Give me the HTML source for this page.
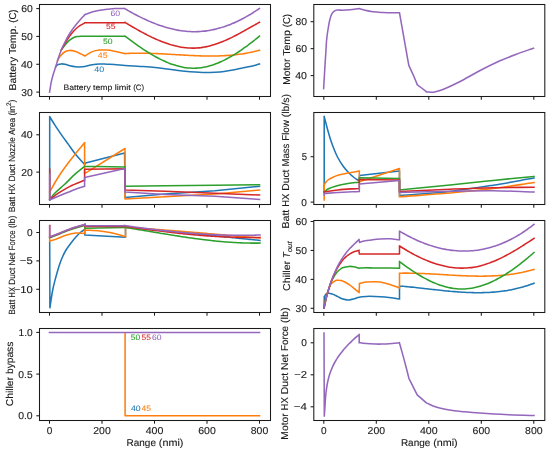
<!DOCTYPE html>
<html><head><meta charset="utf-8"><style>
html,body{margin:0;padding:0;background:#fff;width:550px;height:451px;overflow:hidden}
svg{display:block;filter:blur(0.3px)}
text{font-family:"Liberation Sans", sans-serif;}
.tx text, text.tx{stroke-width:0.22px}
.ax{stroke:#1a1a1a;stroke-width:1.05;fill:none}
</style></head><body>
<svg width="550" height="451" viewBox="0 0 550 451" text-rendering="geometricPrecision">
<rect width="550" height="451" fill="#fff"/>
<g><path d="M55.70,66.80 C56.37,65.73 57.08,65.08 58.00,64.60 C58.94,64.10 60.16,63.96 61.30,63.90 C62.49,63.84 63.69,64.03 65.00,64.30 C66.55,64.61 68.27,65.39 70.00,65.80 C71.80,66.23 73.96,66.63 75.60,66.80 C76.87,66.93 77.71,66.93 79.00,66.90 C80.72,66.85 82.91,66.72 85.00,66.40 C87.33,66.04 89.85,65.15 92.30,64.75 C94.72,64.35 97.16,64.09 99.60,64.00 C102.06,63.91 104.54,64.13 107.00,64.20 C109.44,64.27 111.64,64.23 114.30,64.40 C117.53,64.61 121.13,65.19 125.00,65.50 C129.58,65.87 135.00,66.07 140.00,66.40 C145.00,66.73 150.51,67.04 155.00,67.50 C158.68,67.87 161.67,68.38 165.00,68.80 C168.33,69.22 171.67,69.60 175.00,70.00 C178.33,70.40 181.66,70.87 185.00,71.20 C188.33,71.53 191.33,71.79 195.00,72.00 C199.49,72.25 205.51,72.54 210.00,72.50 C213.67,72.47 216.67,72.33 220.00,72.00 C223.34,71.67 226.67,71.08 230.00,70.50 C233.34,69.92 236.67,69.17 240.00,68.50 C243.33,67.83 246.72,67.26 250.00,66.50 C253.22,65.76 256.33,64.83 259.50,64.00" stroke="#1f77b4" stroke-width="1.55" fill="none" stroke-linejoin="round" stroke-linecap="square"/><path d="M57.60,60.50 C58.34,58.85 59.13,57.50 60.30,56.10 C61.65,54.48 63.68,52.44 65.40,51.50 C66.75,50.76 67.99,50.46 69.50,50.40 C71.32,50.32 73.76,50.93 75.60,51.50 C77.22,52.01 78.49,52.79 80.00,53.50 C81.62,54.26 83.33,55.10 85.00,55.90 M85.00,55.90 C87.43,54.47 89.78,52.57 92.30,51.60 C94.66,50.69 97.15,50.35 99.60,50.10 C102.05,49.85 104.55,49.92 107.00,50.10 C109.45,50.28 112.02,50.77 114.30,51.20 C116.32,51.58 118.16,52.09 120.00,52.50 C121.72,52.89 123.33,53.23 125.00,53.60 M125.00,53.60 C125.68,53.56 126.36,53.52 127.04,53.49 C127.72,53.45 128.40,53.42 129.08,53.39 C129.75,53.37 130.43,53.34 131.11,53.32 C131.79,53.30 132.47,53.28 133.15,53.26 C133.83,53.25 134.51,53.23 135.19,53.22 C135.87,53.21 136.55,53.20 137.23,53.20 C137.91,53.19 138.59,53.19 139.27,53.19 C139.94,53.19 140.62,53.19 141.30,53.19 C141.98,53.20 142.66,53.20 143.34,53.21 C144.02,53.22 144.70,53.23 145.38,53.24 C146.06,53.25 146.74,53.27 147.42,53.28 C148.10,53.30 148.78,53.32 149.45,53.33 C150.13,53.35 150.81,53.38 151.49,53.40 C152.17,53.42 152.85,53.44 153.53,53.47 C154.21,53.50 154.89,53.52 155.57,53.55 C156.25,53.58 156.93,53.61 157.61,53.64 C158.29,53.67 158.96,53.70 159.64,53.73 C160.32,53.77 161.00,53.80 161.68,53.84 C162.36,53.87 163.04,53.91 163.72,53.94 C164.40,53.98 165.08,54.02 165.76,54.05 C166.44,54.09 167.12,54.13 167.80,54.17 C168.47,54.21 169.15,54.25 169.83,54.29 C170.51,54.33 171.19,54.37 171.87,54.41 C172.55,54.45 173.23,54.49 173.91,54.53 C174.59,54.57 175.27,54.61 175.95,54.65 C176.63,54.69 177.31,54.73 177.98,54.77 C178.66,54.81 179.34,54.85 180.02,54.89 C180.70,54.93 181.38,54.97 182.06,55.01 C182.74,55.05 183.42,55.09 184.10,55.13 C184.78,55.16 185.46,55.20 186.14,55.24 C186.82,55.27 187.49,55.31 188.17,55.35 C188.85,55.38 189.53,55.42 190.21,55.45 C190.89,55.48 191.57,55.51 192.25,55.55 C192.93,55.58 193.61,55.61 194.29,55.64 C194.97,55.67 195.65,55.69 196.33,55.72 C197.01,55.75 197.68,55.77 198.36,55.79 C199.04,55.82 199.72,55.84 200.40,55.86 C201.08,55.88 201.76,55.90 202.44,55.91 C203.12,55.93 203.80,55.95 204.48,55.96 C205.16,55.97 205.84,55.98 206.52,55.99 C207.19,56.00 207.87,56.01 208.55,56.01 C209.23,56.02 209.91,56.02 210.59,56.02 C211.27,56.02 211.95,56.02 212.63,56.01 C213.31,56.01 213.99,56.00 214.67,55.99 C215.35,55.98 216.03,55.97 216.70,55.96 C217.38,55.94 218.06,55.93 218.74,55.90 C219.42,55.88 220.10,55.86 220.78,55.84 C221.46,55.81 222.14,55.78 222.82,55.75 C223.50,55.71 224.18,55.68 224.86,55.64 C225.54,55.60 226.21,55.56 226.89,55.51 C227.57,55.47 228.25,55.42 228.93,55.37 C229.61,55.32 230.29,55.26 230.97,55.20 C231.65,55.14 232.33,55.08 233.01,55.01 C233.69,54.95 234.37,54.87 235.05,54.80 C235.72,54.73 236.40,54.65 237.08,54.56 C237.76,54.48 238.44,54.40 239.12,54.30 C239.80,54.21 240.48,54.12 241.16,54.02 C241.84,53.92 242.52,53.82 243.20,53.71 C243.88,53.60 244.56,53.49 245.23,53.37 C245.91,53.25 246.59,53.13 247.27,53.01 C247.95,52.88 248.63,52.75 249.31,52.61 C249.99,52.48 250.67,52.34 251.35,52.19 C252.03,52.04 252.71,51.89 253.39,51.74 C254.07,51.58 254.75,51.42 255.42,51.25 C256.10,51.09 256.78,50.92 257.46,50.74 C258.14,50.56 258.82,50.37 259.50,50.19" stroke="#ff7f0e" stroke-width="1.55" fill="none" stroke-linejoin="round" stroke-linecap="square"/><path d="M61.30,50.00 C62.00,48.69 62.67,48.09 63.50,47.00 C64.52,45.66 65.65,43.97 67.00,42.60 C68.45,41.13 70.25,39.52 72.00,38.50 C73.59,37.58 75.31,36.98 77.00,36.60 C78.64,36.23 80.54,36.26 82.00,36.20 C83.13,36.16 84.00,36.20 85.00,36.20 M85.00,36.20 L125.00,36.20 M125.00,36.18 C125.68,36.69 126.36,37.21 127.04,37.72 C127.72,38.23 128.40,38.73 129.08,39.24 C129.75,39.74 130.43,40.24 131.11,40.74 C131.79,41.24 132.47,41.73 133.15,42.23 C133.83,42.72 134.51,43.20 135.19,43.69 C135.87,44.17 136.55,44.65 137.23,45.13 C137.91,45.60 138.58,46.07 139.27,46.54 C139.94,47.00 140.62,47.47 141.30,47.92 C141.98,48.38 142.66,48.83 143.34,49.28 C144.02,49.73 144.70,50.17 145.38,50.61 C146.06,51.04 146.74,51.47 147.42,51.90 C148.09,52.32 148.77,52.74 149.45,53.16 C150.13,53.57 150.81,53.98 151.49,54.38 C152.17,54.78 152.85,55.17 153.53,55.56 C154.21,55.95 154.89,56.33 155.57,56.70 C156.25,57.08 156.93,57.44 157.61,57.80 C158.28,58.16 158.96,58.51 159.64,58.86 C160.32,59.20 161.00,59.54 161.68,59.87 C162.36,60.20 163.04,60.52 163.72,60.83 C164.40,61.14 165.08,61.45 165.76,61.74 C166.44,62.04 167.11,62.32 167.80,62.60 C168.47,62.88 169.15,63.15 169.83,63.41 C170.51,63.67 171.19,63.92 171.87,64.16 C172.55,64.40 173.23,64.63 173.91,64.85 C174.59,65.07 175.27,65.28 175.95,65.48 C176.62,65.68 177.30,65.88 177.98,66.06 C178.66,66.24 179.34,66.41 180.02,66.57 C180.70,66.72 181.38,66.87 182.06,67.01 C182.74,67.15 183.42,67.27 184.10,67.39 C184.78,67.50 185.46,67.60 186.14,67.69 C186.81,67.78 187.49,67.86 188.17,67.93 C188.85,68.00 189.53,68.05 190.21,68.10 C190.89,68.14 191.57,68.17 192.25,68.19 C192.93,68.20 193.61,68.21 194.29,68.20 C194.97,68.19 195.65,68.17 196.33,68.13 C197.01,68.10 197.68,68.05 198.36,67.99 C199.04,67.93 199.72,67.86 200.40,67.77 C201.08,67.69 201.76,67.59 202.44,67.48 C203.12,67.37 203.80,67.25 204.48,67.11 C205.16,66.98 205.84,66.83 206.52,66.68 C207.20,66.52 207.88,66.35 208.55,66.17 C209.23,65.99 209.91,65.80 210.59,65.60 C211.27,65.40 211.95,65.18 212.63,64.96 C213.31,64.74 213.99,64.50 214.67,64.26 C215.35,64.01 216.03,63.76 216.70,63.49 C217.39,63.23 218.06,62.95 218.74,62.67 C219.42,62.38 220.10,62.09 220.78,61.78 C221.46,61.48 222.14,61.16 222.82,60.84 C223.50,60.52 224.18,60.19 224.86,59.85 C225.54,59.51 226.22,59.16 226.89,58.80 C227.58,58.44 228.25,58.07 228.93,57.70 C229.61,57.32 230.29,56.94 230.97,56.55 C231.65,56.15 232.33,55.75 233.01,55.35 C233.69,54.94 234.37,54.52 235.05,54.10 C235.73,53.68 236.41,53.25 237.08,52.81 C237.76,52.37 238.44,51.93 239.12,51.48 C239.80,51.03 240.48,50.57 241.16,50.11 C241.84,49.64 242.52,49.17 243.20,48.69 C243.88,48.21 244.56,47.73 245.23,47.24 C245.92,46.75 246.59,46.26 247.27,45.76 C247.95,45.25 248.63,44.75 249.31,44.23 C249.99,43.72 250.67,43.20 251.35,42.68 C252.03,42.16 252.71,41.63 253.39,41.10 C254.07,40.56 254.75,40.03 255.42,39.48 C256.10,38.94 256.78,38.40 257.46,37.85 C258.14,37.29 258.82,36.73 259.50,36.18" stroke="#2ca02c" stroke-width="1.55" fill="none" stroke-linejoin="round" stroke-linecap="square"/><path d="M61.30,50.00 C61.95,48.56 62.45,47.84 63.20,46.50 C64.24,44.66 65.59,42.17 67.00,40.00 C68.51,37.68 70.16,35.17 72.00,33.00 C73.83,30.84 75.81,28.71 78.00,27.00 C80.15,25.32 82.67,24.20 85.00,22.80 M85.00,22.80 L125.00,22.40 M125.00,22.40 C125.68,22.81 126.36,23.22 127.04,23.63 C127.72,24.04 128.40,24.44 129.08,24.85 C129.75,25.25 130.43,25.65 131.11,26.05 C131.79,26.45 132.47,26.85 133.15,27.24 C133.83,27.64 134.51,28.03 135.19,28.42 C135.87,28.81 136.55,29.20 137.23,29.58 C137.91,29.97 138.59,30.35 139.27,30.72 C139.94,31.10 140.62,31.47 141.30,31.84 C141.98,32.21 142.66,32.58 143.34,32.94 C144.02,33.30 144.70,33.66 145.38,34.02 C146.06,34.37 146.74,34.72 147.42,35.07 C148.10,35.41 148.77,35.75 149.45,36.09 C150.13,36.42 150.81,36.75 151.49,37.08 C152.17,37.41 152.85,37.73 153.53,38.04 C154.21,38.36 154.89,38.67 155.57,38.97 C156.25,39.27 156.93,39.57 157.61,39.87 C158.28,40.16 158.96,40.44 159.64,40.72 C160.32,41.00 161.00,41.28 161.68,41.55 C162.36,41.81 163.04,42.07 163.72,42.33 C164.40,42.58 165.08,42.83 165.76,43.07 C166.44,43.31 167.12,43.54 167.80,43.76 C168.47,43.99 169.15,44.21 169.83,44.42 C170.51,44.62 171.19,44.83 171.87,45.02 C172.55,45.21 173.23,45.40 173.91,45.58 C174.59,45.76 175.27,45.93 175.95,46.09 C176.63,46.25 177.30,46.40 177.98,46.54 C178.66,46.68 179.34,46.82 180.02,46.94 C180.70,47.07 181.38,47.19 182.06,47.29 C182.74,47.40 183.42,47.49 184.10,47.58 C184.78,47.67 185.46,47.75 186.14,47.81 C186.82,47.88 187.49,47.94 188.17,47.99 C188.85,48.03 189.53,48.07 190.21,48.09 C190.89,48.12 191.57,48.14 192.25,48.14 C192.93,48.14 193.61,48.14 194.29,48.12 C194.97,48.10 195.65,48.07 196.33,48.03 C197.01,47.99 197.68,47.94 198.36,47.88 C199.04,47.82 199.72,47.74 200.40,47.66 C201.08,47.58 201.76,47.48 202.44,47.38 C203.12,47.28 203.80,47.16 204.48,47.04 C205.16,46.91 205.84,46.78 206.52,46.63 C207.20,46.49 207.87,46.34 208.55,46.17 C209.23,46.01 209.91,45.84 210.59,45.66 C211.27,45.48 211.95,45.29 212.63,45.09 C213.31,44.89 213.99,44.68 214.67,44.47 C215.35,44.25 216.03,44.03 216.70,43.79 C217.39,43.56 218.06,43.32 218.74,43.07 C219.42,42.82 220.10,42.57 220.78,42.31 C221.46,42.04 222.14,41.77 222.82,41.49 C223.50,41.21 224.18,40.93 224.86,40.64 C225.54,40.34 226.22,40.04 226.89,39.74 C227.57,39.43 228.25,39.12 228.93,38.80 C229.61,38.48 230.29,38.16 230.97,37.83 C231.65,37.50 232.33,37.16 233.01,36.82 C233.69,36.48 234.37,36.13 235.05,35.78 C235.73,35.43 236.40,35.07 237.08,34.71 C237.76,34.35 238.44,33.99 239.12,33.62 C239.80,33.25 240.48,32.88 241.16,32.51 C241.84,32.14 242.52,31.76 243.20,31.38 C243.88,31.00 244.56,30.62 245.23,30.24 C245.91,29.86 246.59,29.48 247.27,29.10 C247.95,28.72 248.63,28.33 249.31,27.95 C249.99,27.57 250.67,27.18 251.35,26.80 C252.03,26.42 252.71,26.04 253.39,25.66 C254.07,25.28 254.74,24.90 255.42,24.52 C256.10,24.14 256.78,23.77 257.46,23.39 C258.14,23.02 258.82,22.65 259.50,22.28" stroke="#d62728" stroke-width="1.55" fill="none" stroke-linejoin="round" stroke-linecap="square"/><path d="M49.60,92.00 C49.87,90.33 50.14,88.60 50.40,87.00 C50.64,85.51 50.75,84.35 51.10,82.70 C51.58,80.39 52.42,77.18 53.20,74.50 C53.96,71.88 54.87,69.44 55.70,66.80 C56.57,64.02 57.36,61.02 58.30,58.20 C59.23,55.42 60.19,52.69 61.30,50.00 C62.42,47.29 63.62,44.72 65.00,42.00 C66.49,39.06 68.25,35.77 70.00,33.00 C71.60,30.47 73.29,28.21 75.00,26.00 C76.63,23.89 78.31,21.93 80.00,20.00 C81.64,18.13 83.33,16.40 85.00,14.60 M85.00,14.60 C86.67,14.00 88.33,13.35 90.00,12.80 C91.66,12.25 93.32,11.72 95.00,11.30 C96.66,10.89 98.33,10.58 100.00,10.30 C101.66,10.02 103.33,9.82 105.00,9.60 C106.67,9.38 108.33,9.17 110.00,9.00 C111.67,8.83 113.07,8.69 115.00,8.60 C117.66,8.48 121.33,8.53 124.50,8.50 M124.50,8.49 C125.18,8.88 125.86,9.28 126.55,9.68 C127.23,10.07 127.91,10.46 128.59,10.85 C129.27,11.23 129.95,11.61 130.64,11.99 C131.32,12.37 132.00,12.74 132.68,13.11 C133.36,13.48 134.04,13.85 134.73,14.21 C135.41,14.57 136.09,14.93 136.77,15.28 C137.45,15.63 138.14,15.98 138.82,16.32 C139.50,16.67 140.18,17.01 140.86,17.34 C141.54,17.67 142.23,18.00 142.91,18.33 C143.59,18.65 144.27,18.98 144.95,19.29 C145.64,19.61 146.32,19.92 147.00,20.22 C147.68,20.53 148.36,20.83 149.05,21.12 C149.73,21.42 150.41,21.71 151.09,21.99 C151.77,22.28 152.45,22.56 153.14,22.83 C153.82,23.11 154.50,23.38 155.18,23.64 C155.86,23.90 156.54,24.16 157.23,24.41 C157.91,24.66 158.59,24.91 159.27,25.15 C159.95,25.39 160.64,25.62 161.32,25.85 C162.00,26.08 162.68,26.30 163.36,26.52 C164.04,26.74 164.73,26.95 165.41,27.15 C166.09,27.36 166.77,27.55 167.45,27.74 C168.14,27.94 168.82,28.12 169.50,28.30 C170.18,28.48 170.86,28.65 171.55,28.82 C172.23,28.98 172.91,29.14 173.59,29.29 C174.27,29.44 174.95,29.59 175.64,29.73 C176.32,29.87 177.00,30.00 177.68,30.12 C178.36,30.25 179.04,30.36 179.73,30.47 C180.41,30.58 181.09,30.69 181.77,30.78 C182.45,30.88 183.14,30.97 183.82,31.05 C184.50,31.13 185.18,31.20 185.86,31.27 C186.55,31.33 187.23,31.39 187.91,31.44 C188.59,31.49 189.27,31.53 189.95,31.57 C190.64,31.60 191.32,31.63 192.00,31.65 C192.68,31.67 193.36,31.68 194.05,31.68 C194.73,31.69 195.41,31.68 196.09,31.67 C196.77,31.66 197.45,31.63 198.14,31.61 C198.82,31.58 199.50,31.54 200.18,31.49 C200.86,31.45 201.55,31.39 202.23,31.33 C202.91,31.27 203.59,31.20 204.27,31.12 C204.95,31.05 205.64,30.96 206.32,30.87 C207.00,30.77 207.68,30.67 208.36,30.56 C209.05,30.45 209.73,30.34 210.41,30.21 C211.09,30.09 211.77,29.95 212.45,29.81 C213.14,29.67 213.82,29.52 214.50,29.37 C215.18,29.21 215.86,29.05 216.55,28.88 C217.23,28.71 217.91,28.53 218.59,28.34 C219.27,28.16 219.96,27.96 220.64,27.76 C221.32,27.56 222.00,27.35 222.68,27.13 C223.36,26.92 224.05,26.69 224.73,26.46 C225.41,26.23 226.09,25.99 226.77,25.75 C227.46,25.50 228.14,25.25 228.82,24.99 C229.50,24.73 230.18,24.46 230.86,24.18 C231.55,23.91 232.23,23.62 232.91,23.33 C233.59,23.04 234.27,22.75 234.95,22.44 C235.64,22.14 236.32,21.83 237.00,21.51 C237.68,21.19 238.37,20.86 239.05,20.53 C239.73,20.20 240.41,19.86 241.09,19.51 C241.77,19.16 242.46,18.81 243.14,18.45 C243.82,18.09 244.50,17.72 245.18,17.35 C245.87,16.97 246.55,16.59 247.23,16.20 C247.91,15.81 248.59,15.42 249.27,15.02 C249.96,14.61 250.64,14.20 251.32,13.79 C252.00,13.37 252.68,12.95 253.36,12.52 C254.05,12.09 254.73,11.65 255.41,11.21 C256.09,10.77 256.77,10.32 257.45,9.87 C258.14,9.41 258.82,8.94 259.50,8.48" stroke="#9467bd" stroke-width="1.55" fill="none" stroke-linejoin="round" stroke-linecap="square"/><path d="M323.60,88.60 C323.73,86.40 323.86,84.31 324.00,82.00 C324.16,79.46 324.32,76.94 324.50,74.00 C324.72,70.40 324.95,66.00 325.20,62.00 C325.45,58.00 325.76,53.82 326.00,50.00 C326.22,46.52 326.27,43.37 326.60,40.00 C326.93,36.54 327.46,32.88 328.00,29.50 C328.50,26.33 329.00,23.03 329.70,20.30 C330.28,18.04 330.80,15.83 331.70,14.20 C332.42,12.91 333.29,11.78 334.30,11.10 C335.19,10.49 336.15,10.27 337.30,10.10 C338.76,9.88 340.53,10.23 342.40,10.20 C344.68,10.16 347.36,10.04 350.00,9.80 C352.88,9.53 356.00,9.00 359.00,8.60 M359.00,8.60 C360.67,9.07 362.08,9.54 364.00,10.00 C366.55,10.61 369.91,11.38 373.00,11.80 C376.23,12.23 379.67,12.33 383.00,12.50 C386.33,12.67 390.02,12.76 393.00,12.80 C395.40,12.84 397.33,12.80 399.50,12.80 M399.50,12.80 L408.80,65.40 L413.20,74.80 L417.40,84.90 L421.60,88.00 L426.30,91.70 M426.30,91.70 C428.70,91.87 431.18,92.40 433.50,92.20 C435.74,92.01 437.32,91.53 440.00,90.60 C444.75,88.96 452.80,85.15 459.10,82.00 C465.53,78.79 471.80,74.85 478.20,71.50 C484.53,68.19 490.88,64.89 497.30,62.00 C503.61,59.16 510.19,56.66 516.40,54.30 C522.23,52.08 527.80,50.23 533.50,48.20" stroke="#9467bd" stroke-width="1.55" fill="none" stroke-linejoin="round" stroke-linecap="square"/><path d="M49.70,200.00 L49.70,116.70 M49.70,116.70 C51.33,119.33 52.81,121.83 54.60,124.60 C56.63,127.75 59.04,131.35 61.30,134.60 C63.51,137.78 65.71,140.75 68.00,143.90 C70.38,147.18 72.63,150.59 75.30,153.90 C78.14,157.42 81.50,160.90 84.60,164.40 M84.60,164.40 L85.60,163.00 L124.60,153.00 M124.60,153.00 L125.00,197.50 L165.00,194.00 L215.00,190.80 L259.50,186.30" stroke="#1f77b4" stroke-width="1.55" fill="none" stroke-linejoin="round" stroke-linecap="square"/><path d="M49.70,192.00 C51.47,188.83 53.11,185.68 55.00,182.50 C56.97,179.18 59.12,175.74 61.30,172.50 C63.45,169.31 65.69,166.28 68.00,163.20 C70.35,160.08 72.69,157.12 75.30,153.90 C78.19,150.34 81.50,146.50 84.60,142.80 M84.60,142.80 L84.60,173.60 L125.00,148.50 L125.00,199.00 L165.00,196.80 L215.00,193.90 L259.50,190.00" stroke="#ff7f0e" stroke-width="1.55" fill="none" stroke-linejoin="round" stroke-linecap="square"/><path d="M49.70,199.50 C51.47,197.33 52.85,195.26 55.00,193.00 C57.72,190.14 61.70,187.10 65.00,184.00 C68.37,180.84 71.63,177.22 75.00,174.20 C78.17,171.35 81.40,168.93 84.60,166.30 M84.60,166.30 L125.00,167.00 M125.00,167.00 L125.00,186.30 L165.00,185.80 L215.00,185.30 L259.50,184.70" stroke="#2ca02c" stroke-width="1.55" fill="none" stroke-linejoin="round" stroke-linecap="square"/><path d="M49.70,169.00 L49.70,199.50 M49.70,199.50 C51.47,198.20 53.25,196.84 55.00,195.60 C56.68,194.41 58.02,193.44 60.00,192.20 C62.74,190.48 66.29,188.26 70.00,186.40 C74.35,184.23 79.73,182.27 84.60,180.20 M84.60,180.20 L84.60,169.30 L125.00,168.80 L125.00,190.00 L165.00,191.20 L215.00,193.30 L259.50,195.00" stroke="#d62728" stroke-width="1.55" fill="none" stroke-linejoin="round" stroke-linecap="square"/><path d="M49.70,174.00 L49.70,200.00 M49.70,200.00 C53.13,198.50 56.58,196.93 60.00,195.50 C63.35,194.10 67.24,192.60 70.00,191.50 C71.95,190.72 73.05,190.22 75.00,189.50 C77.67,188.51 81.40,187.30 84.60,186.20 M84.60,186.20 L84.60,177.50 L125.00,168.60 L125.00,192.00 L165.00,194.40 L215.00,196.30 L259.50,199.40" stroke="#9467bd" stroke-width="1.55" fill="none" stroke-linejoin="round" stroke-linecap="square"/><path d="M324.20,192.00 L324.20,116.60 M324.20,116.60 C324.80,118.90 325.38,121.15 326.00,123.50 C326.65,125.95 327.24,128.33 328.00,131.00 C328.88,134.10 329.94,137.87 331.00,141.00 C331.95,143.83 332.92,146.35 334.00,149.00 C335.09,151.68 336.09,154.30 337.50,157.00 C339.04,159.96 341.01,163.26 343.00,166.00 C344.86,168.56 347.03,170.98 349.00,173.00 C350.69,174.73 352.28,176.17 354.00,177.50 C355.62,178.75 357.33,179.70 359.00,180.80 M359.00,180.80 L359.50,175.50 L399.50,171.00 L399.50,195.50 M399.50,195.50 C416.33,194.13 433.85,193.21 450.00,191.40 C464.99,189.72 479.02,187.45 493.20,185.20 C507.01,183.01 520.40,180.47 534.00,178.10" stroke="#1f77b4" stroke-width="1.55" fill="none" stroke-linejoin="round" stroke-linecap="square"/><path d="M324.20,200.00 L324.20,185.00 M324.20,185.00 C324.80,184.00 325.33,182.86 326.00,182.00 C326.61,181.22 327.13,180.66 328.00,180.00 C329.25,179.06 331.30,177.99 333.00,177.20 C334.64,176.43 336.02,175.90 338.00,175.30 C340.74,174.47 344.55,173.69 348.00,173.00 C351.64,172.28 355.53,171.73 359.30,171.10 M359.30,171.10 L359.30,181.70 L399.50,168.50 L399.50,196.80 M399.50,196.80 C416.33,195.57 433.83,194.53 450.00,193.10 C464.97,191.77 479.03,190.40 493.20,188.60 C507.01,186.85 520.40,184.53 534.00,182.50" stroke="#ff7f0e" stroke-width="1.55" fill="none" stroke-linejoin="round" stroke-linecap="square"/><path d="M324.20,192.00 C325.47,191.00 326.34,189.91 328.00,189.00 C330.46,187.65 334.63,186.42 338.00,185.50 C341.30,184.60 344.55,184.04 348.00,183.50 C351.64,182.93 355.53,182.63 359.30,182.20 M359.30,182.20 L359.30,177.70 L399.50,178.50 L399.50,190.00 M399.50,190.00 C416.33,188.33 433.83,186.66 450.00,185.00 C464.96,183.46 479.00,181.85 493.20,180.40 C506.99,178.99 520.40,177.73 534.00,176.40" stroke="#2ca02c" stroke-width="1.55" fill="none" stroke-linejoin="round" stroke-linecap="square"/><path d="M324.20,192.00 C328.80,191.33 332.89,190.56 338.00,190.00 C344.32,189.31 352.20,188.93 359.30,188.40 M359.30,188.40 L359.30,179.50 L399.50,180.00 L399.50,191.50 M399.50,191.50 C416.33,190.73 433.82,189.85 450.00,189.20 C464.96,188.60 479.00,188.02 493.20,187.70 C506.99,187.39 520.40,187.43 534.00,187.30" stroke="#d62728" stroke-width="1.55" fill="none" stroke-linejoin="round" stroke-linecap="square"/><path d="M324.20,195.00 L324.20,193.50 M324.20,193.50 C328.80,193.17 332.90,192.80 338.00,192.50 C344.33,192.12 352.20,191.83 359.30,191.50 M359.30,191.50 L359.30,184.00 L399.50,180.50 L399.50,192.50 M399.50,192.50 C416.33,192.10 433.82,191.59 450.00,191.30 C464.96,191.04 479.01,190.67 493.20,190.80 C507.00,190.92 520.40,191.60 534.00,192.00" stroke="#9467bd" stroke-width="1.55" fill="none" stroke-linejoin="round" stroke-linecap="square"/><path d="M49.70,242.00 L49.90,307.30 M50.00,307.50 C50.43,304.43 50.82,301.37 51.30,298.30 C51.78,295.20 52.28,292.01 52.90,289.00 C53.49,286.12 54.16,283.47 54.90,280.60 C55.69,277.55 56.53,274.42 57.50,271.20 C58.54,267.74 59.60,264.01 61.00,260.50 C62.42,256.94 64.19,253.08 66.00,250.00 C67.56,247.35 69.31,245.22 71.00,243.00 C72.61,240.90 74.21,238.87 75.90,237.00 C77.51,235.21 79.25,233.31 80.90,232.00 C82.25,230.93 83.57,230.33 84.90,229.50 M84.80,229.50 L84.80,235.00 L125.50,237.20 L125.50,227.30 M125.50,227.30 C126.18,227.35 126.86,227.40 127.54,227.46 C128.22,227.51 128.90,227.57 129.58,227.62 C130.26,227.67 130.93,227.73 131.61,227.78 C132.29,227.84 132.97,227.89 133.65,227.95 C134.33,228.01 135.01,228.06 135.69,228.12 C136.37,228.18 137.05,228.23 137.73,228.29 C138.41,228.35 139.09,228.41 139.77,228.46 C140.44,228.52 141.12,228.58 141.80,228.64 C142.48,228.70 143.16,228.76 143.84,228.82 C144.52,228.87 145.20,228.93 145.88,228.99 C146.56,229.05 147.24,229.11 147.92,229.17 C148.60,229.24 149.28,229.30 149.95,229.36 C150.63,229.42 151.31,229.48 151.99,229.54 C152.67,229.60 153.35,229.67 154.03,229.73 C154.71,229.79 155.39,229.85 156.07,229.92 C156.75,229.98 157.43,230.04 158.11,230.10 C158.79,230.17 159.46,230.23 160.14,230.30 C160.82,230.36 161.50,230.42 162.18,230.49 C162.86,230.55 163.54,230.62 164.22,230.68 C164.90,230.75 165.58,230.81 166.26,230.88 C166.94,230.94 167.62,231.01 168.30,231.07 C168.97,231.14 169.65,231.20 170.33,231.27 C171.01,231.34 171.69,231.40 172.37,231.47 C173.05,231.54 173.73,231.60 174.41,231.67 C175.09,231.74 175.77,231.80 176.45,231.87 C177.13,231.94 177.81,232.01 178.48,232.07 C179.16,232.14 179.84,232.21 180.52,232.28 C181.20,232.34 181.88,232.41 182.56,232.48 C183.24,232.55 183.92,232.62 184.60,232.69 C185.28,232.75 185.96,232.82 186.64,232.89 C187.32,232.96 187.99,233.03 188.67,233.10 C189.35,233.17 190.03,233.24 190.71,233.31 C191.39,233.37 192.07,233.44 192.75,233.51 C193.43,233.58 194.11,233.65 194.79,233.72 C195.47,233.79 196.15,233.86 196.83,233.93 C197.51,234.00 198.18,234.07 198.86,234.14 C199.54,234.21 200.22,234.28 200.90,234.35 C201.58,234.42 202.26,234.49 202.94,234.56 C203.62,234.63 204.30,234.70 204.98,234.77 C205.66,234.84 206.34,234.91 207.02,234.98 C207.69,235.05 208.37,235.13 209.05,235.20 C209.73,235.27 210.41,235.34 211.09,235.41 C211.77,235.48 212.45,235.55 213.13,235.62 C213.81,235.69 214.49,235.76 215.17,235.83 C215.85,235.90 216.53,235.97 217.20,236.04 C217.88,236.11 218.56,236.18 219.24,236.25 C219.92,236.33 220.60,236.40 221.28,236.47 C221.96,236.54 222.64,236.61 223.32,236.68 C224.00,236.75 224.68,236.82 225.36,236.89 C226.04,236.96 226.71,237.03 227.39,237.10 C228.07,237.17 228.75,237.24 229.43,237.31 C230.11,237.38 230.79,237.45 231.47,237.52 C232.15,237.59 232.83,237.66 233.51,237.73 C234.19,237.80 234.87,237.87 235.55,237.94 C236.22,238.01 236.90,238.08 237.58,238.15 C238.26,238.22 238.94,238.29 239.62,238.36 C240.30,238.43 240.98,238.50 241.66,238.57 C242.34,238.64 243.02,238.70 243.70,238.77 C244.38,238.84 245.06,238.91 245.73,238.98 C246.41,239.05 247.09,239.12 247.77,239.19 C248.45,239.25 249.13,239.32 249.81,239.39 C250.49,239.46 251.17,239.53 251.85,239.59 C252.53,239.66 253.21,239.73 253.89,239.80 C254.57,239.86 255.24,239.93 255.92,240.00 C256.60,240.07 257.28,240.13 257.96,240.20 C258.64,240.27 259.32,240.33 260.00,240.40" stroke="#1f77b4" stroke-width="1.55" fill="none" stroke-linejoin="round" stroke-linecap="square"/><path d="M49.70,238.00 L49.70,241.30 M49.70,241.00 C51.80,240.40 53.68,239.99 56.00,239.20 C58.97,238.18 62.63,236.22 66.00,235.20 C69.27,234.21 72.69,233.38 75.90,233.10 C78.88,232.84 81.70,233.30 84.60,233.40 M84.80,233.00 L84.80,230.00 M84.80,230.00 C89.87,230.33 95.47,230.51 100.00,231.00 C103.69,231.40 106.68,231.84 110.00,232.50 C113.35,233.17 117.17,234.21 120.00,235.00 C122.11,235.59 123.67,236.13 125.50,236.70 M125.50,236.70 L125.50,227.50 M125.50,227.50 C126.18,227.54 126.86,227.57 127.54,227.61 C128.22,227.65 128.90,227.68 129.58,227.72 C130.26,227.76 130.93,227.80 131.61,227.84 C132.29,227.88 132.97,227.92 133.65,227.96 C134.33,228.00 135.01,228.04 135.69,228.08 C136.37,228.12 137.05,228.16 137.73,228.20 C138.41,228.24 139.09,228.28 139.77,228.33 C140.44,228.37 141.12,228.41 141.80,228.45 C142.48,228.50 143.16,228.54 143.84,228.58 C144.52,228.63 145.20,228.67 145.88,228.72 C146.56,228.76 147.24,228.81 147.92,228.85 C148.60,228.90 149.28,228.94 149.95,228.99 C150.63,229.03 151.31,229.08 151.99,229.13 C152.67,229.17 153.35,229.22 154.03,229.27 C154.71,229.32 155.39,229.36 156.07,229.41 C156.75,229.46 157.43,229.51 158.11,229.56 C158.79,229.61 159.46,229.66 160.14,229.71 C160.82,229.75 161.50,229.80 162.18,229.85 C162.86,229.90 163.54,229.95 164.22,230.01 C164.90,230.06 165.58,230.11 166.26,230.16 C166.94,230.21 167.62,230.26 168.30,230.31 C168.97,230.36 169.65,230.42 170.33,230.47 C171.01,230.52 171.69,230.57 172.37,230.63 C173.05,230.68 173.73,230.73 174.41,230.78 C175.09,230.84 175.77,230.89 176.45,230.94 C177.13,231.00 177.81,231.05 178.48,231.11 C179.16,231.16 179.84,231.21 180.52,231.27 C181.20,231.32 181.88,231.38 182.56,231.43 C183.24,231.49 183.92,231.54 184.60,231.60 C185.28,231.65 185.96,231.71 186.64,231.76 C187.32,231.82 187.99,231.88 188.67,231.93 C189.35,231.99 190.03,232.04 190.71,232.10 C191.39,232.16 192.07,232.21 192.75,232.27 C193.43,232.33 194.11,232.38 194.79,232.44 C195.47,232.50 196.15,232.55 196.83,232.61 C197.51,232.67 198.18,232.73 198.86,232.78 C199.54,232.84 200.22,232.90 200.90,232.96 C201.58,233.01 202.26,233.07 202.94,233.13 C203.62,233.19 204.30,233.24 204.98,233.30 C205.66,233.36 206.34,233.42 207.02,233.48 C207.69,233.54 208.37,233.59 209.05,233.65 C209.73,233.71 210.41,233.77 211.09,233.83 C211.77,233.89 212.45,233.94 213.13,234.00 C213.81,234.06 214.49,234.12 215.17,234.18 C215.85,234.24 216.53,234.30 217.20,234.35 C217.88,234.41 218.56,234.47 219.24,234.53 C219.92,234.59 220.60,234.65 221.28,234.71 C221.96,234.77 222.64,234.82 223.32,234.88 C224.00,234.94 224.68,235.00 225.36,235.06 C226.04,235.12 226.71,235.18 227.39,235.24 C228.07,235.30 228.75,235.35 229.43,235.41 C230.11,235.47 230.79,235.53 231.47,235.59 C232.15,235.65 232.83,235.71 233.51,235.76 C234.19,235.82 234.87,235.88 235.55,235.94 C236.22,236.00 236.90,236.06 237.58,236.12 C238.26,236.17 238.94,236.23 239.62,236.29 C240.30,236.35 240.98,236.41 241.66,236.46 C242.34,236.52 243.02,236.58 243.70,236.64 C244.38,236.70 245.06,236.75 245.73,236.81 C246.41,236.87 247.09,236.93 247.77,236.98 C248.45,237.04 249.13,237.10 249.81,237.16 C250.49,237.21 251.17,237.27 251.85,237.33 C252.53,237.38 253.21,237.44 253.89,237.50 C254.57,237.55 255.24,237.61 255.92,237.67 C256.60,237.72 257.28,237.78 257.96,237.83 C258.64,237.89 259.32,237.95 260.00,238.00" stroke="#ff7f0e" stroke-width="1.55" fill="none" stroke-linejoin="round" stroke-linecap="square"/><path d="M49.70,237.80 C53.13,236.47 56.60,235.14 60.00,233.80 C63.36,232.48 66.30,231.09 70.00,229.80 C74.46,228.24 80.00,226.80 85.00,225.30 M85.00,225.30 L84.80,228.20 L125.50,227.40 M125.50,227.40 C126.18,227.51 126.86,227.62 127.54,227.73 C128.22,227.84 128.90,227.95 129.58,228.06 C130.26,228.17 130.93,228.28 131.61,228.39 C132.29,228.50 132.97,228.61 133.65,228.73 C134.33,228.84 135.01,228.95 135.69,229.06 C136.37,229.18 137.05,229.29 137.73,229.40 C138.41,229.52 139.09,229.63 139.77,229.74 C140.44,229.86 141.12,229.97 141.80,230.08 C142.48,230.20 143.16,230.31 143.84,230.43 C144.52,230.54 145.20,230.65 145.88,230.77 C146.56,230.88 147.24,231.00 147.92,231.11 C148.60,231.23 149.28,231.34 149.95,231.46 C150.63,231.57 151.31,231.68 151.99,231.80 C152.67,231.91 153.35,232.03 154.03,232.14 C154.71,232.25 155.39,232.37 156.07,232.48 C156.75,232.60 157.43,232.71 158.11,232.82 C158.79,232.94 159.46,233.05 160.14,233.16 C160.82,233.28 161.50,233.39 162.18,233.50 C162.86,233.61 163.54,233.73 164.22,233.84 C164.90,233.95 165.58,234.06 166.26,234.17 C166.94,234.28 167.62,234.40 168.30,234.51 C168.97,234.62 169.65,234.73 170.33,234.84 C171.01,234.95 171.69,235.05 172.37,235.16 C173.05,235.27 173.73,235.38 174.41,235.49 C175.09,235.60 175.77,235.70 176.45,235.81 C177.13,235.92 177.81,236.02 178.48,236.13 C179.16,236.23 179.84,236.34 180.52,236.44 C181.20,236.55 181.88,236.65 182.56,236.75 C183.24,236.85 183.92,236.96 184.60,237.06 C185.28,237.16 185.96,237.26 186.64,237.36 C187.32,237.46 187.99,237.56 188.67,237.66 C189.35,237.75 190.03,237.85 190.71,237.95 C191.39,238.04 192.07,238.14 192.75,238.23 C193.43,238.33 194.11,238.42 194.79,238.52 C195.47,238.61 196.15,238.70 196.83,238.79 C197.50,238.88 198.18,238.97 198.86,239.06 C199.54,239.15 200.22,239.24 200.90,239.32 C201.58,239.41 202.26,239.50 202.94,239.58 C203.62,239.66 204.30,239.75 204.98,239.83 C205.66,239.91 206.34,239.99 207.02,240.07 C207.69,240.15 208.37,240.23 209.05,240.31 C209.73,240.38 210.41,240.46 211.09,240.54 C211.77,240.61 212.45,240.68 213.13,240.76 C213.81,240.83 214.49,240.90 215.17,240.97 C215.85,241.04 216.53,241.11 217.20,241.17 C217.88,241.24 218.56,241.30 219.24,241.37 C219.92,241.43 220.60,241.49 221.28,241.55 C221.96,241.62 222.64,241.67 223.32,241.73 C224.00,241.79 224.68,241.85 225.36,241.90 C226.04,241.96 226.71,242.01 227.39,242.06 C228.07,242.11 228.75,242.16 229.43,242.21 C230.11,242.26 230.79,242.30 231.47,242.35 C232.15,242.39 232.83,242.43 233.51,242.48 C234.19,242.52 234.87,242.56 235.55,242.59 C236.22,242.63 236.90,242.67 237.58,242.70 C238.26,242.74 238.94,242.77 239.62,242.80 C240.30,242.83 240.98,242.86 241.66,242.88 C242.34,242.91 243.02,242.93 243.70,242.96 C244.38,242.98 245.06,243.00 245.73,243.02 C246.41,243.04 247.09,243.05 247.77,243.07 C248.45,243.08 249.13,243.09 249.81,243.10 C250.49,243.12 251.17,243.12 251.85,243.13 C252.53,243.14 253.21,243.14 253.89,243.14 C254.57,243.14 255.24,243.14 255.92,243.14 C256.60,243.14 257.28,243.13 257.96,243.13 C258.64,243.12 259.32,243.11 260.00,243.10" stroke="#2ca02c" stroke-width="1.55" fill="none" stroke-linejoin="round" stroke-linecap="square"/><path d="M49.70,225.50 L49.70,237.30 M49.70,237.30 C53.13,235.93 56.59,234.56 60.00,233.20 C63.36,231.86 66.30,230.53 70.00,229.20 C74.47,227.59 80.00,226.00 85.00,224.40 M85.00,224.40 L84.80,226.50 L125.50,226.20 M125.50,226.20 C126.18,226.30 126.86,226.40 127.54,226.51 C128.22,226.61 128.90,226.71 129.58,226.81 C130.26,226.91 130.93,227.01 131.61,227.11 C132.29,227.22 132.97,227.32 133.65,227.42 C134.33,227.52 135.01,227.62 135.69,227.71 C136.37,227.81 137.05,227.91 137.73,228.01 C138.41,228.11 139.09,228.21 139.77,228.30 C140.44,228.40 141.12,228.50 141.80,228.60 C142.48,228.69 143.16,228.79 143.84,228.88 C144.52,228.98 145.20,229.07 145.88,229.17 C146.56,229.26 147.24,229.36 147.92,229.45 C148.60,229.54 149.28,229.64 149.95,229.73 C150.63,229.82 151.31,229.91 151.99,230.01 C152.67,230.10 153.35,230.19 154.03,230.28 C154.71,230.37 155.39,230.46 156.07,230.55 C156.75,230.64 157.43,230.72 158.11,230.81 C158.79,230.90 159.46,230.99 160.14,231.07 C160.82,231.16 161.50,231.25 162.18,231.33 C162.86,231.42 163.54,231.50 164.22,231.59 C164.90,231.67 165.58,231.75 166.26,231.84 C166.94,231.92 167.62,232.00 168.30,232.08 C168.97,232.16 169.65,232.24 170.33,232.32 C171.01,232.40 171.69,232.48 172.37,232.56 C173.05,232.64 173.73,232.72 174.41,232.80 C175.09,232.87 175.77,232.95 176.45,233.02 C177.13,233.10 177.81,233.17 178.48,233.25 C179.16,233.32 179.84,233.40 180.52,233.47 C181.20,233.54 181.88,233.61 182.56,233.68 C183.24,233.76 183.92,233.83 184.60,233.89 C185.28,233.96 185.96,234.03 186.64,234.10 C187.32,234.17 187.99,234.23 188.67,234.30 C189.35,234.37 190.03,234.43 190.71,234.50 C191.39,234.56 192.07,234.62 192.75,234.69 C193.43,234.75 194.11,234.81 194.79,234.87 C195.47,234.93 196.15,234.99 196.83,235.05 C197.51,235.11 198.18,235.17 198.86,235.22 C199.54,235.28 200.22,235.34 200.90,235.39 C201.58,235.45 202.26,235.50 202.94,235.56 C203.62,235.61 204.30,235.66 204.98,235.71 C205.66,235.76 206.34,235.81 207.02,235.86 C207.69,235.91 208.37,235.96 209.05,236.01 C209.73,236.06 210.41,236.10 211.09,236.15 C211.77,236.19 212.45,236.24 213.13,236.28 C213.81,236.32 214.49,236.37 215.17,236.41 C215.85,236.45 216.53,236.49 217.20,236.53 C217.88,236.57 218.56,236.60 219.24,236.64 C219.92,236.68 220.60,236.71 221.28,236.75 C221.96,236.78 222.64,236.82 223.32,236.85 C224.00,236.88 224.68,236.91 225.36,236.94 C226.04,236.97 226.71,237.00 227.39,237.03 C228.07,237.06 228.75,237.08 229.43,237.11 C230.11,237.13 230.79,237.16 231.47,237.18 C232.15,237.20 232.83,237.23 233.51,237.25 C234.19,237.27 234.87,237.29 235.55,237.30 C236.22,237.32 236.90,237.34 237.58,237.35 C238.26,237.37 238.94,237.38 239.62,237.40 C240.30,237.41 240.98,237.42 241.66,237.43 C242.34,237.44 243.02,237.45 243.70,237.46 C244.38,237.47 245.06,237.48 245.73,237.48 C246.41,237.49 247.09,237.49 247.77,237.49 C248.45,237.50 249.13,237.50 249.81,237.50 C250.49,237.50 251.17,237.50 251.85,237.50 C252.53,237.49 253.21,237.49 253.89,237.48 C254.57,237.48 255.24,237.47 255.92,237.46 C256.60,237.46 257.28,237.45 257.96,237.44 C258.64,237.42 259.32,237.41 260.00,237.40" stroke="#d62728" stroke-width="1.55" fill="none" stroke-linejoin="round" stroke-linecap="square"/><path d="M49.70,226.00 L49.70,237.00 M49.70,237.00 C53.13,235.67 56.60,234.34 60.00,233.00 C63.36,231.68 66.30,230.33 70.00,229.00 C74.47,227.39 80.00,225.80 85.00,224.20 M85.00,224.20 L84.80,225.80 L124.00,225.50 M124.00,225.50 C124.68,225.59 125.35,225.69 126.03,225.78 C126.71,225.88 127.38,225.97 128.06,226.06 C128.74,226.16 129.41,226.25 130.09,226.34 C130.77,226.44 131.44,226.53 132.12,226.62 C132.80,226.71 133.47,226.80 134.15,226.90 C134.83,226.99 135.50,227.08 136.18,227.17 C136.86,227.26 137.53,227.35 138.21,227.44 C138.89,227.53 139.56,227.61 140.24,227.70 C140.92,227.79 141.59,227.88 142.27,227.97 C142.95,228.05 143.62,228.14 144.30,228.23 C144.98,228.31 145.65,228.40 146.33,228.48 C147.00,228.57 147.68,228.65 148.36,228.74 C149.03,228.82 149.71,228.91 150.39,228.99 C151.06,229.07 151.74,229.15 152.42,229.24 C153.09,229.32 153.77,229.40 154.45,229.48 C155.12,229.56 155.80,229.64 156.48,229.72 C157.15,229.80 157.83,229.88 158.51,229.96 C159.18,230.04 159.86,230.11 160.54,230.19 C161.21,230.27 161.89,230.35 162.57,230.42 C163.24,230.50 163.92,230.57 164.60,230.65 C165.27,230.72 165.95,230.79 166.63,230.87 C167.30,230.94 167.98,231.01 168.66,231.09 C169.33,231.16 170.01,231.23 170.69,231.30 C171.36,231.37 172.04,231.44 172.72,231.51 C173.39,231.58 174.07,231.64 174.75,231.71 C175.42,231.78 176.10,231.84 176.78,231.91 C177.45,231.98 178.13,232.04 178.81,232.11 C179.48,232.17 180.16,232.23 180.84,232.30 C181.51,232.36 182.19,232.42 182.87,232.48 C183.54,232.54 184.22,232.60 184.90,232.66 C185.57,232.72 186.25,232.78 186.93,232.84 C187.60,232.90 188.28,232.95 188.96,233.01 C189.63,233.06 190.31,233.12 190.99,233.17 C191.66,233.23 192.34,233.28 193.01,233.33 C193.69,233.39 194.37,233.44 195.04,233.49 C195.72,233.54 196.40,233.59 197.07,233.64 C197.75,233.69 198.43,233.73 199.10,233.78 C199.78,233.83 200.46,233.87 201.13,233.92 C201.81,233.96 202.49,234.01 203.16,234.05 C203.84,234.09 204.52,234.14 205.19,234.18 C205.87,234.22 206.55,234.26 207.22,234.30 C207.90,234.34 208.58,234.37 209.25,234.41 C209.93,234.45 210.61,234.48 211.28,234.52 C211.96,234.55 212.64,234.59 213.31,234.62 C213.99,234.65 214.67,234.68 215.34,234.71 C216.02,234.75 216.70,234.78 217.37,234.80 C218.05,234.83 218.73,234.86 219.40,234.89 C220.08,234.91 220.76,234.94 221.43,234.96 C222.11,234.99 222.79,235.01 223.46,235.03 C224.14,235.05 224.82,235.07 225.49,235.09 C226.17,235.11 226.85,235.13 227.52,235.15 C228.20,235.16 228.88,235.18 229.55,235.19 C230.23,235.21 230.91,235.22 231.58,235.24 C232.26,235.25 232.94,235.26 233.61,235.27 C234.29,235.28 234.97,235.29 235.64,235.29 C236.32,235.30 237.00,235.31 237.67,235.31 C238.35,235.32 239.02,235.32 239.70,235.32 C240.38,235.33 241.05,235.33 241.73,235.33 C242.41,235.33 243.08,235.33 243.76,235.32 C244.44,235.32 245.11,235.32 245.79,235.31 C246.47,235.31 247.14,235.30 247.82,235.29 C248.50,235.28 249.17,235.27 249.85,235.26 C250.53,235.25 251.20,235.24 251.88,235.23 C252.56,235.21 253.23,235.20 253.91,235.18 C254.59,235.17 255.26,235.15 255.94,235.13 C256.62,235.11 257.29,235.09 257.97,235.07 C258.65,235.05 259.32,235.02 260.00,235.00" stroke="#9467bd" stroke-width="1.55" fill="none" stroke-linejoin="round" stroke-linecap="square"/><path d="M324.00,308.00 L324.30,296.80 M324.30,296.80 C324.87,295.93 325.29,294.79 326.00,294.20 C326.62,293.69 327.34,293.39 328.20,293.30 C329.32,293.18 330.80,293.57 332.20,294.00 C333.87,294.52 335.74,295.56 337.50,296.40 C339.28,297.25 340.91,298.52 342.80,299.10 C344.74,299.70 347.01,299.99 349.00,299.90 C350.87,299.82 352.67,299.17 354.40,298.70 C356.03,298.26 357.36,297.57 359.10,297.20 C361.18,296.75 363.62,296.54 366.10,296.40 C368.88,296.24 371.95,296.31 375.00,296.40 C378.24,296.50 381.37,296.64 385.00,297.00 C389.39,297.43 394.67,298.33 399.50,299.00 M399.50,299.00 L399.50,286.00 M399.50,285.99 C400.18,286.05 400.86,286.11 401.54,286.17 C402.22,286.22 402.90,286.28 403.58,286.34 C404.26,286.41 404.93,286.47 405.61,286.53 C406.29,286.60 406.97,286.66 407.65,286.73 C408.33,286.79 409.01,286.86 409.69,286.93 C410.37,287.00 411.05,287.07 411.73,287.14 C412.41,287.21 413.09,287.28 413.77,287.35 C414.44,287.42 415.12,287.50 415.80,287.57 C416.48,287.64 417.16,287.72 417.84,287.79 C418.52,287.87 419.20,287.94 419.88,288.02 C420.56,288.09 421.24,288.17 421.92,288.25 C422.60,288.32 423.28,288.40 423.95,288.48 C424.63,288.55 425.31,288.63 425.99,288.71 C426.67,288.79 427.35,288.86 428.03,288.94 C428.71,289.02 429.39,289.09 430.07,289.17 C430.75,289.25 431.43,289.32 432.11,289.40 C432.79,289.48 433.46,289.55 434.14,289.63 C434.82,289.70 435.50,289.78 436.18,289.85 C436.86,289.93 437.54,290.00 438.22,290.08 C438.90,290.15 439.58,290.22 440.26,290.29 C440.94,290.37 441.62,290.44 442.30,290.51 C442.97,290.58 443.65,290.65 444.33,290.71 C445.01,290.78 445.69,290.85 446.37,290.92 C447.05,290.98 447.73,291.05 448.41,291.11 C449.09,291.17 449.77,291.24 450.45,291.30 C451.13,291.36 451.81,291.42 452.48,291.47 C453.16,291.53 453.84,291.59 454.52,291.64 C455.20,291.70 455.88,291.75 456.56,291.80 C457.24,291.85 457.92,291.90 458.60,291.95 C459.28,292.00 459.96,292.04 460.64,292.09 C461.32,292.13 461.99,292.17 462.67,292.21 C463.35,292.25 464.03,292.29 464.71,292.33 C465.39,292.36 466.07,292.39 466.75,292.42 C467.43,292.45 468.11,292.48 468.79,292.51 C469.47,292.53 470.15,292.56 470.83,292.58 C471.51,292.60 472.18,292.62 472.86,292.63 C473.54,292.65 474.22,292.66 474.90,292.67 C475.58,292.68 476.26,292.68 476.94,292.69 C477.62,292.69 478.30,292.69 478.98,292.69 C479.66,292.69 480.34,292.68 481.02,292.67 C481.69,292.66 482.37,292.65 483.05,292.64 C483.73,292.62 484.41,292.60 485.09,292.58 C485.77,292.56 486.45,292.53 487.13,292.50 C487.81,292.47 488.49,292.44 489.17,292.40 C489.85,292.37 490.53,292.33 491.20,292.28 C491.88,292.24 492.56,292.19 493.24,292.14 C493.92,292.09 494.60,292.03 495.28,291.97 C495.96,291.91 496.64,291.85 497.32,291.78 C498.00,291.71 498.68,291.64 499.36,291.56 C500.04,291.48 500.71,291.40 501.39,291.32 C502.07,291.23 502.75,291.14 503.43,291.05 C504.11,290.95 504.79,290.85 505.47,290.75 C506.15,290.65 506.83,290.54 507.51,290.42 C508.19,290.31 508.87,290.19 509.55,290.07 C510.23,289.95 510.90,289.82 511.58,289.68 C512.26,289.55 512.94,289.41 513.62,289.27 C514.30,289.13 514.98,288.98 515.66,288.82 C516.34,288.67 517.02,288.51 517.70,288.35 C518.38,288.18 519.06,288.01 519.73,287.84 C520.41,287.66 521.09,287.48 521.77,287.29 C522.45,287.10 523.13,286.91 523.81,286.71 C524.49,286.52 525.17,286.31 525.85,286.10 C526.53,285.89 527.21,285.68 527.89,285.45 C528.57,285.23 529.25,285.00 529.92,284.77 C530.60,284.54 531.28,284.30 531.96,284.05 C532.64,283.80 533.32,283.54 534.00,283.29" stroke="#1f77b4" stroke-width="1.55" fill="none" stroke-linejoin="round" stroke-linecap="square"/><path d="M324.00,308.00 C324.40,306.00 324.80,303.91 325.20,302.00 C325.57,300.26 325.89,298.62 326.30,297.00 C326.69,295.45 327.14,293.96 327.60,292.50 C328.04,291.10 328.60,289.57 329.00,288.40 C329.30,287.52 329.43,286.88 329.80,286.10 C330.23,285.19 330.82,284.04 331.50,283.30 C332.11,282.65 332.82,282.27 333.60,281.80 C334.47,281.27 335.60,280.54 336.50,280.30 C337.21,280.11 337.77,280.17 338.50,280.20 C339.38,280.24 340.30,280.28 341.40,280.60 C342.99,281.07 345.38,282.30 347.00,283.20 C348.33,283.94 349.27,284.59 350.50,285.50 C351.98,286.60 353.70,288.18 355.20,289.40 C356.55,290.50 357.80,291.47 359.10,292.50 M359.10,292.50 L359.50,283.60 M359.50,283.60 C361.70,283.07 363.72,282.33 366.10,282.00 C368.83,281.63 372.46,281.67 375.00,281.70 C376.91,281.73 378.06,281.70 380.00,282.00 C382.78,282.43 386.74,283.49 390.00,284.50 C393.23,285.50 396.33,286.83 399.50,288.00 M399.50,288.00 L399.50,273.20 M399.50,273.20 C400.18,273.19 400.86,273.17 401.54,273.16 C402.22,273.15 402.90,273.14 403.58,273.14 C404.26,273.13 404.93,273.13 405.61,273.13 C406.29,273.13 406.97,273.13 407.65,273.13 C408.33,273.14 409.01,273.14 409.69,273.15 C410.37,273.16 411.05,273.17 411.73,273.18 C412.41,273.19 413.09,273.21 413.77,273.22 C414.44,273.24 415.12,273.26 415.80,273.27 C416.48,273.29 417.16,273.31 417.84,273.34 C418.52,273.36 419.20,273.38 419.88,273.41 C420.56,273.43 421.24,273.46 421.92,273.49 C422.60,273.51 423.28,273.54 423.95,273.57 C424.63,273.60 425.31,273.63 425.99,273.67 C426.67,273.70 427.35,273.73 428.03,273.77 C428.71,273.80 429.39,273.84 430.07,273.87 C430.75,273.91 431.43,273.94 432.11,273.98 C432.79,274.02 433.46,274.06 434.14,274.10 C434.82,274.13 435.50,274.17 436.18,274.21 C436.86,274.25 437.54,274.29 438.22,274.33 C438.90,274.37 439.58,274.42 440.26,274.46 C440.94,274.50 441.62,274.54 442.30,274.58 C442.97,274.62 443.65,274.66 444.33,274.70 C445.01,274.74 445.69,274.79 446.37,274.83 C447.05,274.87 447.73,274.91 448.41,274.95 C449.09,274.99 449.77,275.03 450.45,275.07 C451.13,275.11 451.81,275.15 452.48,275.19 C453.16,275.23 453.84,275.26 454.52,275.30 C455.20,275.34 455.88,275.38 456.56,275.41 C457.24,275.45 457.92,275.48 458.60,275.52 C459.28,275.55 459.96,275.58 460.64,275.62 C461.32,275.65 461.99,275.68 462.67,275.71 C463.35,275.74 464.03,275.77 464.71,275.80 C465.39,275.83 466.07,275.85 466.75,275.88 C467.43,275.90 468.11,275.93 468.79,275.95 C469.47,275.97 470.15,275.99 470.83,276.01 C471.51,276.03 472.18,276.05 472.86,276.06 C473.54,276.08 474.22,276.09 474.90,276.10 C475.58,276.12 476.26,276.13 476.94,276.13 C477.62,276.14 478.30,276.15 478.98,276.15 C479.66,276.16 480.34,276.16 481.02,276.16 C481.69,276.16 482.37,276.15 483.05,276.15 C483.73,276.14 484.41,276.14 485.09,276.13 C485.77,276.12 486.45,276.10 487.13,276.09 C487.81,276.07 488.49,276.06 489.17,276.03 C489.85,276.01 490.53,275.99 491.20,275.96 C491.88,275.94 492.56,275.91 493.24,275.88 C493.92,275.85 494.60,275.81 495.28,275.77 C495.96,275.73 496.64,275.69 497.32,275.65 C498.00,275.60 498.68,275.56 499.36,275.51 C500.04,275.45 500.71,275.40 501.39,275.34 C502.07,275.28 502.75,275.22 503.43,275.16 C504.11,275.09 504.79,275.03 505.47,274.95 C506.15,274.88 506.83,274.80 507.51,274.73 C508.19,274.65 508.87,274.56 509.55,274.47 C510.22,274.39 510.90,274.29 511.58,274.20 C512.26,274.10 512.94,274.00 513.62,273.90 C514.30,273.80 514.98,273.69 515.66,273.58 C516.34,273.46 517.02,273.35 517.70,273.22 C518.38,273.10 519.06,272.98 519.73,272.85 C520.41,272.72 521.09,272.58 521.77,272.44 C522.45,272.30 523.13,272.16 523.81,272.01 C524.49,271.86 525.17,271.71 525.85,271.55 C526.53,271.39 527.21,271.23 527.89,271.06 C528.57,270.89 529.25,270.71 529.92,270.53 C530.60,270.36 531.28,270.17 531.96,269.98 C532.64,269.79 533.32,269.59 534.00,269.40" stroke="#ff7f0e" stroke-width="1.55" fill="none" stroke-linejoin="round" stroke-linecap="square"/><path d="M324.00,308.00 C324.40,306.00 324.80,303.91 325.20,302.00 C325.57,300.26 325.89,298.62 326.30,297.00 C326.69,295.45 327.14,293.96 327.60,292.50 C328.04,291.10 328.48,289.95 329.00,288.40 C329.68,286.38 330.68,282.86 331.30,281.40 C331.60,280.70 331.77,280.50 332.10,279.90 C332.60,278.99 333.33,277.57 334.00,276.50 C334.64,275.48 335.34,274.50 336.00,273.60 C336.60,272.78 337.09,272.03 337.80,271.30 C338.59,270.49 339.73,269.64 340.60,269.00 C341.31,268.48 341.70,268.07 342.60,267.70 C344.09,267.09 347.01,266.54 349.00,266.40 C350.71,266.28 352.18,266.42 353.80,266.70 C355.51,267.00 357.27,267.70 359.00,268.20 M359.00,268.20 C360.00,268.10 360.68,267.97 362.00,267.90 C364.51,267.77 368.54,267.87 373.00,267.90 C379.92,267.94 390.67,268.10 399.50,268.20 M399.50,268.20 L399.50,261.50 M399.50,261.48 C400.18,262.00 400.86,262.53 401.54,263.05 C402.22,263.56 402.90,264.07 403.58,264.58 C404.25,265.08 404.93,265.58 405.61,266.08 C406.29,266.57 406.97,267.06 407.65,267.54 C408.33,268.02 409.01,268.50 409.69,268.97 C410.37,269.44 411.05,269.90 411.73,270.36 C412.41,270.82 413.08,271.27 413.77,271.71 C414.44,272.16 415.12,272.59 415.80,273.03 C416.48,273.46 417.16,273.88 417.84,274.30 C418.52,274.71 419.20,275.12 419.88,275.52 C420.56,275.93 421.24,276.32 421.92,276.71 C422.59,277.09 423.27,277.47 423.95,277.85 C424.63,278.22 425.31,278.58 425.99,278.94 C426.67,279.29 427.35,279.64 428.03,279.98 C428.71,280.32 429.39,280.65 430.07,280.97 C430.75,281.30 431.43,281.61 432.11,281.92 C432.78,282.22 433.46,282.52 434.14,282.81 C434.82,283.09 435.50,283.37 436.18,283.64 C436.86,283.91 437.54,284.17 438.22,284.42 C438.90,284.67 439.58,284.92 440.26,285.15 C440.94,285.38 441.61,285.60 442.30,285.81 C442.97,286.03 443.65,286.23 444.33,286.42 C445.01,286.61 445.69,286.80 446.37,286.97 C447.05,287.14 447.73,287.30 448.41,287.45 C449.09,287.60 449.77,287.74 450.45,287.87 C451.13,288.00 451.80,288.12 452.48,288.23 C453.16,288.34 453.84,288.44 454.52,288.52 C455.20,288.61 455.88,288.68 456.56,288.74 C457.24,288.81 457.92,288.86 458.60,288.90 C459.28,288.94 459.96,288.97 460.64,288.98 C461.32,289.00 462.00,289.00 462.67,288.99 C463.35,288.99 464.03,288.97 464.71,288.93 C465.39,288.90 466.07,288.86 466.75,288.80 C467.43,288.75 468.11,288.68 468.79,288.60 C469.47,288.52 470.15,288.43 470.83,288.32 C471.51,288.22 472.19,288.11 472.86,287.98 C473.54,287.86 474.22,287.72 474.90,287.57 C475.58,287.43 476.26,287.27 476.94,287.10 C477.62,286.93 478.30,286.75 478.98,286.56 C479.66,286.37 480.34,286.17 481.02,285.96 C481.70,285.75 482.38,285.53 483.05,285.30 C483.73,285.06 484.41,284.82 485.09,284.57 C485.77,284.32 486.45,284.06 487.13,283.79 C487.81,283.52 488.49,283.24 489.17,282.95 C489.85,282.66 490.53,282.36 491.20,282.05 C491.89,281.74 492.56,281.42 493.24,281.10 C493.92,280.77 494.60,280.43 495.28,280.09 C495.96,279.75 496.64,279.39 497.32,279.03 C498.00,278.67 498.68,278.30 499.36,277.92 C500.04,277.54 500.72,277.16 501.39,276.76 C502.08,276.37 502.75,275.96 503.43,275.55 C504.11,275.14 504.79,274.72 505.47,274.30 C506.15,273.87 506.83,273.44 507.51,273.00 C508.19,272.55 508.87,272.10 509.55,271.65 C510.23,271.19 510.91,270.73 511.58,270.26 C512.26,269.79 512.94,269.31 513.62,268.83 C514.30,268.34 514.98,267.85 515.66,267.35 C516.34,266.85 517.02,266.35 517.70,265.84 C518.38,265.33 519.06,264.81 519.73,264.29 C520.42,263.77 521.09,263.24 521.77,262.70 C522.45,262.17 523.13,261.63 523.81,261.08 C524.49,260.53 525.17,259.98 525.85,259.43 C526.53,258.87 527.21,258.30 527.89,257.74 C528.57,257.17 529.25,256.59 529.92,256.02 C530.60,255.44 531.28,254.85 531.96,254.26 C532.64,253.67 533.32,253.08 534.00,252.48" stroke="#2ca02c" stroke-width="1.55" fill="none" stroke-linejoin="round" stroke-linecap="square"/><path d="M324.00,307.98 C324.73,304.78 325.43,301.44 326.19,298.38 C326.89,295.55 327.61,292.84 328.38,290.25 C329.08,287.86 329.80,285.58 330.56,283.40 C331.27,281.38 331.99,279.46 332.75,277.62 C333.46,275.91 334.18,274.28 334.94,272.71 C335.65,271.24 336.37,269.83 337.12,268.48 C337.83,267.21 338.56,265.99 339.31,264.83 C340.02,263.74 340.75,262.69 341.50,261.71 C342.21,260.78 342.94,259.90 343.69,259.07 C344.40,258.29 345.13,257.56 345.88,256.88 C346.59,256.23 347.32,255.63 348.06,255.08 C348.78,254.55 349.51,254.06 350.25,253.62 C350.97,253.20 351.70,252.82 352.44,252.48 C353.16,252.14 353.89,251.85 354.62,251.58 C355.35,251.33 356.08,251.11 356.81,250.91 C357.54,250.71 358.27,250.57 359.00,250.40 M359.00,250.40 L359.30,254.00 L399.50,254.00 L399.50,246.00 M399.50,245.99 C400.18,246.42 400.86,246.85 401.54,247.28 C402.22,247.70 402.90,248.12 403.58,248.53 C404.25,248.95 404.93,249.36 405.61,249.76 C406.29,250.17 406.97,250.56 407.65,250.96 C408.33,251.35 409.01,251.74 409.69,252.12 C410.37,252.50 411.05,252.88 411.73,253.25 C412.41,253.62 413.08,253.99 413.77,254.35 C414.44,254.71 415.12,255.06 415.80,255.41 C416.48,255.76 417.16,256.10 417.84,256.44 C418.52,256.77 419.20,257.10 419.88,257.42 C420.56,257.75 421.24,258.06 421.92,258.37 C422.59,258.68 423.27,258.99 423.95,259.29 C424.63,259.58 425.31,259.87 425.99,260.16 C426.67,260.44 427.35,260.72 428.03,260.99 C428.71,261.26 429.39,261.53 430.07,261.78 C430.75,262.04 431.43,262.29 432.11,262.53 C432.78,262.77 433.46,263.01 434.14,263.24 C434.82,263.47 435.50,263.69 436.18,263.90 C436.86,264.11 437.54,264.32 438.22,264.52 C438.90,264.72 439.58,264.91 440.26,265.09 C440.94,265.28 441.62,265.45 442.30,265.62 C442.97,265.79 443.65,265.95 444.33,266.10 C445.01,266.25 445.69,266.39 446.37,266.53 C447.05,266.66 447.73,266.79 448.41,266.91 C449.09,267.03 449.77,267.14 450.45,267.24 C451.13,267.35 451.81,267.44 452.48,267.53 C453.16,267.61 453.84,267.69 454.52,267.76 C455.20,267.82 455.88,267.88 456.56,267.93 C457.24,267.98 457.92,268.03 458.60,268.06 C459.28,268.09 459.96,268.11 460.64,268.13 C461.32,268.14 461.99,268.15 462.67,268.14 C463.35,268.14 464.03,268.13 464.71,268.10 C465.39,268.08 466.07,268.05 466.75,268.01 C467.43,267.97 468.11,267.91 468.79,267.85 C469.47,267.79 470.15,267.72 470.83,267.64 C471.51,267.56 472.19,267.47 472.86,267.37 C473.54,267.27 474.22,267.16 474.90,267.04 C475.58,266.91 476.26,266.78 476.94,266.64 C477.62,266.50 478.30,266.35 478.98,266.19 C479.66,266.03 480.34,265.86 481.02,265.68 C481.70,265.50 482.37,265.31 483.05,265.12 C483.73,264.92 484.41,264.71 485.09,264.50 C485.77,264.28 486.45,264.06 487.13,263.83 C487.81,263.60 488.49,263.36 489.17,263.11 C489.85,262.86 490.53,262.60 491.20,262.34 C491.89,262.08 492.56,261.80 493.24,261.53 C493.92,261.25 494.60,260.96 495.28,260.67 C495.96,260.37 496.64,260.07 497.32,259.77 C498.00,259.46 498.68,259.14 499.36,258.82 C500.04,258.50 500.72,258.18 501.39,257.84 C502.07,257.51 502.75,257.17 503.43,256.83 C504.11,256.48 504.79,256.13 505.47,255.77 C506.15,255.42 506.83,255.05 507.51,254.69 C508.19,254.32 508.87,253.95 509.55,253.57 C510.23,253.19 510.91,252.81 511.58,252.42 C512.26,252.04 512.94,251.64 513.62,251.25 C514.30,250.85 514.98,250.45 515.66,250.05 C516.34,249.64 517.02,249.23 517.70,248.82 C518.38,248.41 519.06,247.99 519.73,247.58 C520.41,247.16 521.09,246.73 521.77,246.31 C522.45,245.88 523.13,245.45 523.81,245.02 C524.49,244.59 525.17,244.16 525.85,243.72 C526.53,243.28 527.21,242.84 527.89,242.40 C528.57,241.96 529.25,241.52 529.92,241.07 C530.60,240.63 531.28,240.18 531.96,239.73 C532.64,239.28 533.32,238.83 534.00,238.38" stroke="#d62728" stroke-width="1.55" fill="none" stroke-linejoin="round" stroke-linecap="square"/><path d="M324.00,307.98 C324.73,304.79 325.43,301.47 326.19,298.41 C326.89,295.58 327.62,292.86 328.38,290.26 C329.08,287.84 329.81,285.53 330.56,283.30 C331.27,281.22 332.00,279.22 332.75,277.29 C333.46,275.46 334.19,273.70 334.94,272.00 C335.65,270.37 336.38,268.80 337.12,267.29 C337.84,265.85 338.57,264.45 339.31,263.11 C340.03,261.83 340.75,260.59 341.50,259.40 C342.21,258.26 342.94,257.16 343.69,256.10 C344.40,255.08 345.13,254.10 345.88,253.15 C346.59,252.23 347.32,251.35 348.06,250.50 C348.78,249.66 349.51,248.86 350.25,248.08 C350.97,247.31 351.70,246.57 352.44,245.84 C353.16,245.12 353.89,244.42 354.62,243.72 C355.35,243.02 356.08,242.34 356.81,241.66 C357.54,240.97 358.27,240.28 359.00,239.60 M359.00,239.60 L359.60,242.30 M359.60,242.30 C360.73,241.97 361.65,241.60 363.00,241.30 C364.91,240.87 367.46,240.55 370.00,240.20 C373.03,239.78 376.66,239.23 380.00,239.00 C383.33,238.77 386.71,238.66 390.00,238.80 C393.21,238.94 396.33,239.47 399.50,239.80 M399.50,239.80 L399.50,231.20 M399.50,231.19 C400.18,231.59 400.86,231.99 401.54,232.38 C402.22,232.77 402.90,233.16 403.58,233.54 C404.25,233.92 404.93,234.30 405.61,234.67 C406.29,235.04 406.97,235.40 407.65,235.76 C408.33,236.12 409.01,236.47 409.69,236.81 C410.37,237.16 411.05,237.50 411.73,237.83 C412.41,238.17 413.08,238.50 413.77,238.82 C414.44,239.14 415.12,239.46 415.80,239.77 C416.48,240.08 417.16,240.38 417.84,240.68 C418.52,240.98 419.20,241.27 419.88,241.55 C420.56,241.84 421.24,242.12 421.92,242.39 C422.59,242.67 423.27,242.93 423.95,243.19 C424.63,243.45 425.31,243.71 425.99,243.96 C426.67,244.21 427.35,244.45 428.03,244.68 C428.71,244.92 429.39,245.15 430.07,245.37 C430.75,245.60 431.43,245.81 432.11,246.02 C432.78,246.23 433.46,246.44 434.14,246.64 C434.82,246.83 435.50,247.03 436.18,247.21 C436.86,247.40 437.54,247.57 438.22,247.75 C438.90,247.92 439.58,248.08 440.26,248.24 C440.94,248.40 441.62,248.55 442.30,248.70 C442.97,248.85 443.65,248.98 444.33,249.12 C445.01,249.25 445.69,249.38 446.37,249.49 C447.05,249.61 447.73,249.73 448.41,249.83 C449.09,249.94 449.77,250.04 450.45,250.13 C451.13,250.22 451.81,250.31 452.48,250.38 C453.16,250.46 453.84,250.54 454.52,250.60 C455.20,250.67 455.88,250.72 456.56,250.77 C457.24,250.83 457.92,250.87 458.60,250.91 C459.28,250.94 459.96,250.98 460.64,251.00 C461.32,251.02 461.99,251.04 462.67,251.05 C463.35,251.06 464.03,251.06 464.71,251.06 C465.39,251.05 466.07,251.04 466.75,251.02 C467.43,251.00 468.11,250.98 468.79,250.94 C469.47,250.91 470.15,250.87 470.83,250.82 C471.51,250.77 472.18,250.72 472.86,250.66 C473.54,250.60 474.22,250.53 474.90,250.45 C475.58,250.37 476.26,250.29 476.94,250.20 C477.62,250.11 478.30,250.01 478.98,249.90 C479.66,249.80 480.34,249.69 481.02,249.57 C481.70,249.44 482.37,249.32 483.05,249.18 C483.73,249.05 484.41,248.90 485.09,248.75 C485.77,248.60 486.45,248.44 487.13,248.28 C487.81,248.11 488.49,247.94 489.17,247.76 C489.85,247.58 490.53,247.39 491.20,247.20 C491.88,247.00 492.56,246.80 493.24,246.59 C493.92,246.38 494.60,246.16 495.28,245.93 C495.96,245.70 496.64,245.47 497.32,245.23 C498.00,244.99 498.68,244.74 499.36,244.48 C500.04,244.22 500.72,243.96 501.39,243.69 C502.07,243.41 502.75,243.13 503.43,242.84 C504.11,242.55 504.79,242.26 505.47,241.95 C506.15,241.65 506.83,241.34 507.51,241.02 C508.19,240.69 508.87,240.37 509.55,240.03 C510.23,239.69 510.91,239.35 511.58,239.00 C512.26,238.64 512.94,238.28 513.62,237.92 C514.30,237.55 514.98,237.17 515.66,236.79 C516.34,236.40 517.02,236.01 517.70,235.61 C518.38,235.20 519.06,234.80 519.73,234.38 C520.42,233.96 521.10,233.53 521.77,233.10 C522.45,232.67 523.13,232.22 523.81,231.77 C524.49,231.32 525.17,230.86 525.85,230.40 C526.53,229.93 527.21,229.45 527.89,228.97 C528.57,228.49 529.25,227.99 529.92,227.49 C530.61,226.99 531.28,226.48 531.96,225.97 C532.64,225.45 533.32,224.91 534.00,224.39" stroke="#9467bd" stroke-width="1.55" fill="none" stroke-linejoin="round" stroke-linecap="square"/><path d="M125.10,333.20 L125.10,415.80 L259.50,415.80" stroke="#ff7f0e" stroke-width="1.55" fill="none" stroke-linejoin="round" stroke-linecap="square"/><path d="M49.50,332.40 L259.50,332.40" stroke="#9467bd" stroke-width="1.55" fill="none" stroke-linejoin="round" stroke-linecap="square"/><path d="M324.00,333.00 L324.30,416.00 M324.30,416.00 C324.53,412.70 324.79,409.24 325.00,406.10 C325.19,403.27 325.31,400.41 325.50,398.00 C325.65,396.05 325.78,394.60 326.00,392.70 C326.26,390.48 326.63,387.68 327.00,385.50 C327.31,383.68 327.60,382.22 328.00,380.50 C328.43,378.66 328.96,376.56 329.50,374.80 C329.97,373.26 330.44,371.96 331.00,370.50 C331.60,368.96 332.30,367.27 333.00,365.80 C333.64,364.45 334.28,363.29 335.00,362.00 C335.77,360.63 336.64,359.12 337.50,357.80 C338.31,356.56 339.12,355.49 340.00,354.30 C340.94,353.03 341.98,351.64 343.00,350.40 C343.98,349.21 344.99,348.11 346.00,347.00 C346.99,345.91 347.99,344.83 349.00,343.80 C349.99,342.80 350.96,341.89 352.00,340.90 C353.12,339.83 354.30,338.65 355.50,337.60 C356.70,336.55 357.97,335.60 359.20,334.60 M359.20,334.60 L359.20,342.60 M359.20,342.60 C360.47,342.80 361.54,343.02 363.00,343.20 C364.98,343.44 367.40,343.65 370.00,343.80 C373.27,343.98 377.40,344.15 381.10,344.10 C384.80,344.05 388.90,343.77 392.20,343.50 C394.86,343.28 397.00,342.97 399.40,342.70 M399.40,342.70 L403.30,356.60 L406.70,369.50 L408.90,378.30 L417.20,394.90 L426.10,402.70 M426.10,402.70 C429.40,404.17 432.39,405.90 436.00,407.10 C440.05,408.44 444.66,409.33 449.30,410.10 C454.29,410.93 459.87,411.29 465.00,411.80 C469.93,412.29 474.66,412.72 479.50,413.10 C484.36,413.48 489.24,413.82 494.10,414.10 C498.94,414.38 503.76,414.60 508.60,414.80 C513.46,415.00 518.70,415.18 523.20,415.30 C527.07,415.40 530.40,415.43 534.00,415.50" stroke="#9467bd" stroke-width="1.55" fill="none" stroke-linejoin="round" stroke-linecap="square"/></g>
<g><line x1="36.30" y1="92.10" x2="39.50" y2="92.10" class="ax"/><text x="32.70" y="95.60" font-size="10.00" text-anchor="end" fill="#1a1a1a" stroke="#1a1a1a" stroke-width="0.12" textLength="11.46" lengthAdjust="spacingAndGlyphs" >30</text><line x1="36.30" y1="64.27" x2="39.50" y2="64.27" class="ax"/><text x="32.70" y="67.77" font-size="10.00" text-anchor="end" fill="#1a1a1a" stroke="#1a1a1a" stroke-width="0.12" textLength="11.72" lengthAdjust="spacingAndGlyphs" >40</text><line x1="36.30" y1="36.43" x2="39.50" y2="36.43" class="ax"/><text x="32.70" y="39.93" font-size="10.00" text-anchor="end" fill="#1a1a1a" stroke="#1a1a1a" stroke-width="0.12" textLength="11.46" lengthAdjust="spacingAndGlyphs" >50</text><line x1="36.30" y1="8.60" x2="39.50" y2="8.60" class="ax"/><text x="32.70" y="12.10" font-size="10.00" text-anchor="end" fill="#1a1a1a" stroke="#1a1a1a" stroke-width="0.12" textLength="11.52" lengthAdjust="spacingAndGlyphs" >60</text><line x1="49.50" y1="96.50" x2="49.50" y2="99.70" class="ax"/><line x1="102.00" y1="96.50" x2="102.00" y2="99.70" class="ax"/><line x1="154.50" y1="96.50" x2="154.50" y2="99.70" class="ax"/><line x1="207.00" y1="96.50" x2="207.00" y2="99.70" class="ax"/><line x1="259.50" y1="96.50" x2="259.50" y2="99.70" class="ax"/><rect x="39.50" y="4.50" width="231.00" height="92.00" class="ax" fill="none"/><line x1="310.60" y1="75.60" x2="313.80" y2="75.60" class="ax"/><text x="307.00" y="79.10" font-size="10.00" text-anchor="end" fill="#1a1a1a" stroke="#1a1a1a" stroke-width="0.12" textLength="11.72" lengthAdjust="spacingAndGlyphs" >40</text><line x1="310.60" y1="48.65" x2="313.80" y2="48.65" class="ax"/><text x="307.00" y="52.15" font-size="10.00" text-anchor="end" fill="#1a1a1a" stroke="#1a1a1a" stroke-width="0.12" textLength="11.52" lengthAdjust="spacingAndGlyphs" >60</text><line x1="310.60" y1="21.70" x2="313.80" y2="21.70" class="ax"/><text x="307.00" y="25.20" font-size="10.00" text-anchor="end" fill="#1a1a1a" stroke="#1a1a1a" stroke-width="0.12" textLength="11.54" lengthAdjust="spacingAndGlyphs" >80</text><line x1="323.80" y1="96.50" x2="323.80" y2="99.70" class="ax"/><line x1="376.30" y1="96.50" x2="376.30" y2="99.70" class="ax"/><line x1="428.80" y1="96.50" x2="428.80" y2="99.70" class="ax"/><line x1="481.30" y1="96.50" x2="481.30" y2="99.70" class="ax"/><line x1="533.80" y1="96.50" x2="533.80" y2="99.70" class="ax"/><rect x="313.80" y="4.50" width="231.00" height="92.00" class="ax" fill="none"/><line x1="36.30" y1="172.10" x2="39.50" y2="172.10" class="ax"/><text x="32.70" y="175.60" font-size="10.00" text-anchor="end" fill="#1a1a1a" stroke="#1a1a1a" stroke-width="0.12" textLength="11.49" lengthAdjust="spacingAndGlyphs" >20</text><line x1="36.30" y1="134.80" x2="39.50" y2="134.80" class="ax"/><text x="32.70" y="138.30" font-size="10.00" text-anchor="end" fill="#1a1a1a" stroke="#1a1a1a" stroke-width="0.12" textLength="11.72" lengthAdjust="spacingAndGlyphs" >40</text><line x1="49.50" y1="204.50" x2="49.50" y2="207.70" class="ax"/><line x1="102.00" y1="204.50" x2="102.00" y2="207.70" class="ax"/><line x1="154.50" y1="204.50" x2="154.50" y2="207.70" class="ax"/><line x1="207.00" y1="204.50" x2="207.00" y2="207.70" class="ax"/><line x1="259.50" y1="204.50" x2="259.50" y2="207.70" class="ax"/><rect x="39.50" y="112.50" width="231.00" height="92.00" class="ax" fill="none"/><line x1="310.60" y1="202.10" x2="313.80" y2="202.10" class="ax"/><text x="307.00" y="205.60" font-size="10.00" text-anchor="end" fill="#1a1a1a" stroke="#1a1a1a" stroke-width="0.12" textLength="5.61" lengthAdjust="spacingAndGlyphs" >0</text><line x1="310.60" y1="156.70" x2="313.80" y2="156.70" class="ax"/><text x="307.00" y="160.20" font-size="10.00" text-anchor="end" fill="#1a1a1a" stroke="#1a1a1a" stroke-width="0.12" textLength="5.31" lengthAdjust="spacingAndGlyphs" >5</text><line x1="323.80" y1="204.50" x2="323.80" y2="207.70" class="ax"/><line x1="376.30" y1="204.50" x2="376.30" y2="207.70" class="ax"/><line x1="428.80" y1="204.50" x2="428.80" y2="207.70" class="ax"/><line x1="481.30" y1="204.50" x2="481.30" y2="207.70" class="ax"/><line x1="533.80" y1="204.50" x2="533.80" y2="207.70" class="ax"/><rect x="313.80" y="112.50" width="231.00" height="92.00" class="ax" fill="none"/><line x1="36.30" y1="232.50" x2="39.50" y2="232.50" class="ax"/><text x="32.70" y="236.00" font-size="10.00" text-anchor="end" fill="#1a1a1a" stroke="#1a1a1a" stroke-width="0.12" textLength="5.61" lengthAdjust="spacingAndGlyphs" >0</text><line x1="36.30" y1="260.90" x2="39.50" y2="260.90" class="ax"/><text x="32.70" y="264.40" font-size="10.00" text-anchor="end" fill="#1a1a1a" stroke="#1a1a1a" stroke-width="0.12" textLength="12.88" lengthAdjust="spacingAndGlyphs" >−5</text><line x1="36.30" y1="289.30" x2="39.50" y2="289.30" class="ax"/><text x="32.70" y="292.80" font-size="10.00" text-anchor="end" fill="#1a1a1a" stroke="#1a1a1a" stroke-width="0.12" textLength="19.02" lengthAdjust="spacingAndGlyphs" >−10</text><line x1="49.50" y1="312.50" x2="49.50" y2="315.70" class="ax"/><line x1="102.00" y1="312.50" x2="102.00" y2="315.70" class="ax"/><line x1="154.50" y1="312.50" x2="154.50" y2="315.70" class="ax"/><line x1="207.00" y1="312.50" x2="207.00" y2="315.70" class="ax"/><line x1="259.50" y1="312.50" x2="259.50" y2="315.70" class="ax"/><rect x="39.50" y="220.50" width="231.00" height="92.00" class="ax" fill="none"/><line x1="310.60" y1="308.30" x2="313.80" y2="308.30" class="ax"/><text x="307.00" y="311.80" font-size="10.00" text-anchor="end" fill="#1a1a1a" stroke="#1a1a1a" stroke-width="0.12" textLength="11.46" lengthAdjust="spacingAndGlyphs" >30</text><line x1="310.60" y1="279.37" x2="313.80" y2="279.37" class="ax"/><text x="307.00" y="282.87" font-size="10.00" text-anchor="end" fill="#1a1a1a" stroke="#1a1a1a" stroke-width="0.12" textLength="11.72" lengthAdjust="spacingAndGlyphs" >40</text><line x1="310.60" y1="250.43" x2="313.80" y2="250.43" class="ax"/><text x="307.00" y="253.93" font-size="10.00" text-anchor="end" fill="#1a1a1a" stroke="#1a1a1a" stroke-width="0.12" textLength="11.46" lengthAdjust="spacingAndGlyphs" >50</text><line x1="310.60" y1="221.50" x2="313.80" y2="221.50" class="ax"/><text x="307.00" y="225.00" font-size="10.00" text-anchor="end" fill="#1a1a1a" stroke="#1a1a1a" stroke-width="0.12" textLength="11.52" lengthAdjust="spacingAndGlyphs" >60</text><line x1="323.80" y1="312.50" x2="323.80" y2="315.70" class="ax"/><line x1="376.30" y1="312.50" x2="376.30" y2="315.70" class="ax"/><line x1="428.80" y1="312.50" x2="428.80" y2="315.70" class="ax"/><line x1="481.30" y1="312.50" x2="481.30" y2="315.70" class="ax"/><line x1="533.80" y1="312.50" x2="533.80" y2="315.70" class="ax"/><rect x="313.80" y="220.50" width="231.00" height="92.00" class="ax" fill="none"/><line x1="36.30" y1="415.80" x2="39.50" y2="415.80" class="ax"/><text x="32.70" y="419.30" font-size="10.00" text-anchor="end" fill="#1a1a1a" stroke="#1a1a1a" stroke-width="0.12" textLength="14.53" lengthAdjust="spacingAndGlyphs" >0.0</text><line x1="36.30" y1="374.10" x2="39.50" y2="374.10" class="ax"/><text x="32.70" y="377.60" font-size="10.00" text-anchor="end" fill="#1a1a1a" stroke="#1a1a1a" stroke-width="0.12" textLength="14.34" lengthAdjust="spacingAndGlyphs" >0.5</text><line x1="36.30" y1="332.40" x2="39.50" y2="332.40" class="ax"/><text x="32.70" y="335.90" font-size="10.00" text-anchor="end" fill="#1a1a1a" stroke="#1a1a1a" stroke-width="0.12" textLength="14.12" lengthAdjust="spacingAndGlyphs" >1.0</text><line x1="49.50" y1="420.50" x2="49.50" y2="423.70" class="ax"/><text x="49.50" y="434.20" font-size="10.00" text-anchor="middle" fill="#1a1a1a" stroke="#1a1a1a" stroke-width="0.12" textLength="5.61" lengthAdjust="spacingAndGlyphs" >0</text><line x1="102.00" y1="420.50" x2="102.00" y2="423.70" class="ax"/><text x="102.00" y="434.20" font-size="10.00" text-anchor="middle" fill="#1a1a1a" stroke="#1a1a1a" stroke-width="0.12" textLength="17.44" lengthAdjust="spacingAndGlyphs" >200</text><line x1="154.50" y1="420.50" x2="154.50" y2="423.70" class="ax"/><text x="154.50" y="434.20" font-size="10.00" text-anchor="middle" fill="#1a1a1a" stroke="#1a1a1a" stroke-width="0.12" textLength="17.67" lengthAdjust="spacingAndGlyphs" >400</text><line x1="207.00" y1="420.50" x2="207.00" y2="423.70" class="ax"/><text x="207.00" y="434.20" font-size="10.00" text-anchor="middle" fill="#1a1a1a" stroke="#1a1a1a" stroke-width="0.12" textLength="17.47" lengthAdjust="spacingAndGlyphs" >600</text><line x1="259.50" y1="420.50" x2="259.50" y2="423.70" class="ax"/><text x="259.50" y="434.20" font-size="10.00" text-anchor="middle" fill="#1a1a1a" stroke="#1a1a1a" stroke-width="0.12" textLength="17.49" lengthAdjust="spacingAndGlyphs" >800</text><rect x="39.50" y="328.50" width="231.00" height="92.00" class="ax" fill="none"/><line x1="310.60" y1="342.80" x2="313.80" y2="342.80" class="ax"/><text x="307.00" y="346.30" font-size="10.00" text-anchor="end" fill="#1a1a1a" stroke="#1a1a1a" stroke-width="0.12" textLength="5.61" lengthAdjust="spacingAndGlyphs" >0</text><line x1="310.60" y1="374.80" x2="313.80" y2="374.80" class="ax"/><text x="307.00" y="378.30" font-size="10.00" text-anchor="end" fill="#1a1a1a" stroke="#1a1a1a" stroke-width="0.12" textLength="12.76" lengthAdjust="spacingAndGlyphs" >−2</text><line x1="310.60" y1="406.80" x2="313.80" y2="406.80" class="ax"/><text x="307.00" y="410.30" font-size="10.00" text-anchor="end" fill="#1a1a1a" stroke="#1a1a1a" stroke-width="0.12" textLength="13.17" lengthAdjust="spacingAndGlyphs" >−4</text><line x1="323.80" y1="420.50" x2="323.80" y2="423.70" class="ax"/><text x="323.80" y="434.20" font-size="10.00" text-anchor="middle" fill="#1a1a1a" stroke="#1a1a1a" stroke-width="0.12" textLength="5.61" lengthAdjust="spacingAndGlyphs" >0</text><line x1="376.30" y1="420.50" x2="376.30" y2="423.70" class="ax"/><text x="376.30" y="434.20" font-size="10.00" text-anchor="middle" fill="#1a1a1a" stroke="#1a1a1a" stroke-width="0.12" textLength="17.44" lengthAdjust="spacingAndGlyphs" >200</text><line x1="428.80" y1="420.50" x2="428.80" y2="423.70" class="ax"/><text x="428.80" y="434.20" font-size="10.00" text-anchor="middle" fill="#1a1a1a" stroke="#1a1a1a" stroke-width="0.12" textLength="17.67" lengthAdjust="spacingAndGlyphs" >400</text><line x1="481.30" y1="420.50" x2="481.30" y2="423.70" class="ax"/><text x="481.30" y="434.20" font-size="10.00" text-anchor="middle" fill="#1a1a1a" stroke="#1a1a1a" stroke-width="0.12" textLength="17.47" lengthAdjust="spacingAndGlyphs" >600</text><line x1="533.80" y1="420.50" x2="533.80" y2="423.70" class="ax"/><text x="533.80" y="434.20" font-size="10.00" text-anchor="middle" fill="#1a1a1a" stroke="#1a1a1a" stroke-width="0.12" textLength="17.49" lengthAdjust="spacingAndGlyphs" >800</text><rect x="313.80" y="328.50" width="231.00" height="92.00" class="ax" fill="none"/></g>
<g><g transform="translate(15.90 50.00) rotate(-90)" fill="#1a1a1a" stroke="#1a1a1a" stroke-width="0.12"><text x="-40.55" y="0.00" font-size="9.96" textLength="33.47" lengthAdjust="spacingAndGlyphs">Battery</text><text x="-4.21" y="0.00" font-size="9.96" textLength="28.51" lengthAdjust="spacingAndGlyphs">Temp.</text><text x="27.18" y="0.00" font-size="9.96" textLength="13.37" lengthAdjust="spacingAndGlyphs">(C)</text></g><g transform="translate(289.80 49.30) rotate(-90)" fill="#1a1a1a" stroke="#1a1a1a" stroke-width="0.12"><text x="-35.35" y="0.00" font-size="9.96" textLength="26.06" lengthAdjust="spacingAndGlyphs">Motor</text><text x="-6.42" y="0.00" font-size="9.96" textLength="25.57" lengthAdjust="spacingAndGlyphs">Temp</text><text x="22.02" y="0.00" font-size="9.96" textLength="13.33" lengthAdjust="spacingAndGlyphs">(C)</text></g><g transform="translate(14.80 155.90) rotate(-90)" fill="#1a1a1a" stroke="#1a1a1a" stroke-width="0.12"><text x="-56.40" y="0.00" font-size="9.01" textLength="15.41" lengthAdjust="spacingAndGlyphs">Batt</text><text x="-38.64" y="0.00" font-size="9.01" textLength="10.63" lengthAdjust="spacingAndGlyphs">HX</text><text x="-25.66" y="0.00" font-size="9.01" textLength="17.35" lengthAdjust="spacingAndGlyphs">Duct</text><text x="-5.96" y="0.00" font-size="9.01" textLength="24.43" lengthAdjust="spacingAndGlyphs">Nozzle</text><text x="20.82" y="0.00" font-size="9.01" textLength="17.18" lengthAdjust="spacingAndGlyphs">Area</text><text x="40.36" y="0.00" font-size="9.01" textLength="9.63" lengthAdjust="spacingAndGlyphs">(in</text><text x="49.98" y="-3.83" font-size="6.76" textLength="3.53" lengthAdjust="spacingAndGlyphs">2</text><text x="53.51" y="0.00" font-size="9.01" textLength="2.89" lengthAdjust="spacingAndGlyphs">)</text></g><g transform="translate(288.90 161.30) rotate(-90)" fill="#1a1a1a" stroke="#1a1a1a" stroke-width="0.12"><text x="-67.30" y="0.00" font-size="9.96" textLength="18.94" lengthAdjust="spacingAndGlyphs">Batt</text><text x="-45.47" y="0.00" font-size="9.96" textLength="13.06" lengthAdjust="spacingAndGlyphs">HX</text><text x="-29.52" y="0.00" font-size="9.96" textLength="21.32" lengthAdjust="spacingAndGlyphs">Duct</text><text x="-5.31" y="0.00" font-size="9.96" textLength="22.89" lengthAdjust="spacingAndGlyphs">Mass</text><text x="20.47" y="0.00" font-size="9.96" textLength="20.75" lengthAdjust="spacingAndGlyphs">Flow</text><text x="44.11" y="0.00" font-size="9.96" textLength="23.19" lengthAdjust="spacingAndGlyphs">(lb/s)</text></g><g transform="translate(15.30 265.30) rotate(-90)" fill="#1a1a1a" stroke="#1a1a1a" stroke-width="0.12"><text x="-49.55" y="0.00" font-size="9.01" textLength="15.10" lengthAdjust="spacingAndGlyphs">Batt</text><text x="-32.14" y="0.00" font-size="9.01" textLength="10.42" lengthAdjust="spacingAndGlyphs">HX</text><text x="-19.42" y="0.00" font-size="9.01" textLength="17.01" lengthAdjust="spacingAndGlyphs">Duct</text><text x="-0.10" y="0.00" font-size="9.01" textLength="12.73" lengthAdjust="spacingAndGlyphs">Net</text><text x="14.93" y="0.00" font-size="9.01" textLength="20.04" lengthAdjust="spacingAndGlyphs">Force</text><text x="37.27" y="0.00" font-size="9.01" textLength="12.28" lengthAdjust="spacingAndGlyphs">(lb)</text></g><g transform="translate(289.90 266.20) rotate(-90)" fill="#1a1a1a" stroke="#1a1a1a" stroke-width="0.12"><text x="-24.75" y="0.00" font-size="9.96" textLength="30.00" lengthAdjust="spacingAndGlyphs">Chiller</text><text x="8.24" y="0.00" font-size="9.96" textLength="5.74" lengthAdjust="spacingAndGlyphs" font-style="italic">T</text><text x="13.98" y="1.88" font-size="6.97" textLength="10.78" lengthAdjust="spacingAndGlyphs" font-style="italic">out</text></g><g transform="translate(12.90 374.00) rotate(-90)" fill="#1a1a1a" stroke="#1a1a1a" stroke-width="0.12"><text x="-32.30" y="0.00" font-size="9.96" textLength="29.35" lengthAdjust="spacingAndGlyphs">Chiller</text><text x="-0.03" y="0.00" font-size="9.96" textLength="32.33" lengthAdjust="spacingAndGlyphs">bypass</text></g><g transform="translate(287.80 373.60) rotate(-90)" fill="#1a1a1a" stroke="#1a1a1a" stroke-width="0.12"><text x="-66.10" y="0.00" font-size="9.96" textLength="26.39" lengthAdjust="spacingAndGlyphs">Motor</text><text x="-36.80" y="0.00" font-size="9.96" textLength="13.13" lengthAdjust="spacingAndGlyphs">HX</text><text x="-20.77" y="0.00" font-size="9.96" textLength="21.43" lengthAdjust="spacingAndGlyphs">Duct</text><text x="3.56" y="0.00" font-size="9.96" textLength="16.03" lengthAdjust="spacingAndGlyphs">Net</text><text x="22.49" y="0.00" font-size="9.96" textLength="25.24" lengthAdjust="spacingAndGlyphs">Force</text><text x="50.64" y="0.00" font-size="9.96" textLength="15.46" lengthAdjust="spacingAndGlyphs">(lb)</text></g><g transform="translate(155.00 446.40)" fill="#1a1a1a" stroke="#1a1a1a" stroke-width="0.12"><text x="-28.40" y="0.00" font-size="9.91" textLength="29.35" lengthAdjust="spacingAndGlyphs">Range</text><text x="3.88" y="0.00" font-size="9.91" textLength="24.52" lengthAdjust="spacingAndGlyphs">(nmi)</text></g><g transform="translate(429.30 446.40)" fill="#1a1a1a" stroke="#1a1a1a" stroke-width="0.12"><text x="-28.40" y="0.00" font-size="9.91" textLength="29.35" lengthAdjust="spacingAndGlyphs">Range</text><text x="3.88" y="0.00" font-size="9.91" textLength="24.52" lengthAdjust="spacingAndGlyphs">(nmi)</text></g></g>
<g><text x="115.30" y="15.60" font-size="7.95" text-anchor="middle" fill="#9467bd" stroke="#9467bd" stroke-width="0.06" textLength="9.72" lengthAdjust="spacingAndGlyphs" >60</text><text x="110.75" y="29.30" font-size="7.95" text-anchor="middle" fill="#d62728" stroke="#d62728" stroke-width="0.06" textLength="9.51" lengthAdjust="spacingAndGlyphs" >55</text><text x="107.75" y="43.55" font-size="7.95" text-anchor="middle" fill="#2ca02c" stroke="#2ca02c" stroke-width="0.06" textLength="9.67" lengthAdjust="spacingAndGlyphs" >50</text><text x="102.70" y="57.50" font-size="7.95" text-anchor="middle" fill="#ff7f0e" stroke="#ff7f0e" stroke-width="0.06" textLength="9.72" lengthAdjust="spacingAndGlyphs" >45</text><text x="99.30" y="71.50" font-size="7.95" text-anchor="middle" fill="#1f77b4" stroke="#1f77b4" stroke-width="0.06" textLength="9.88" lengthAdjust="spacingAndGlyphs" >40</text><g transform="translate(63.50 90.00)" fill="#1a1a1a" stroke="#1a1a1a" stroke-width="0.1"><text x="0.00" y="0.00" font-size="7.76" textLength="27.25" lengthAdjust="spacingAndGlyphs">Battery</text><text x="29.59" y="0.00" font-size="7.76" textLength="19.26" lengthAdjust="spacingAndGlyphs">temp</text><text x="51.18" y="0.00" font-size="7.76" textLength="16.19" lengthAdjust="spacingAndGlyphs">limit</text><text x="69.72" y="0.00" font-size="7.76" textLength="10.88" lengthAdjust="spacingAndGlyphs">(C)</text></g><text x="135.50" y="339.70" font-size="7.90" text-anchor="middle" fill="#2ca02c" stroke="#2ca02c" stroke-width="0.06" textLength="9.41" lengthAdjust="spacingAndGlyphs" >50</text><text x="146.20" y="339.70" font-size="7.90" text-anchor="middle" fill="#d62728" stroke="#d62728" stroke-width="0.06" textLength="9.25" lengthAdjust="spacingAndGlyphs" >55</text><text x="156.85" y="339.70" font-size="7.90" text-anchor="middle" fill="#9467bd" stroke="#9467bd" stroke-width="0.06" textLength="9.46" lengthAdjust="spacingAndGlyphs" >60</text><text x="135.85" y="410.90" font-size="7.90" text-anchor="middle" fill="#1f77b4" stroke="#1f77b4" stroke-width="0.06" textLength="9.62" lengthAdjust="spacingAndGlyphs" >40</text><text x="146.30" y="410.90" font-size="7.90" text-anchor="middle" fill="#ff7f0e" stroke="#ff7f0e" stroke-width="0.06" textLength="9.46" lengthAdjust="spacingAndGlyphs" >45</text></g>
</svg>
</body></html>
